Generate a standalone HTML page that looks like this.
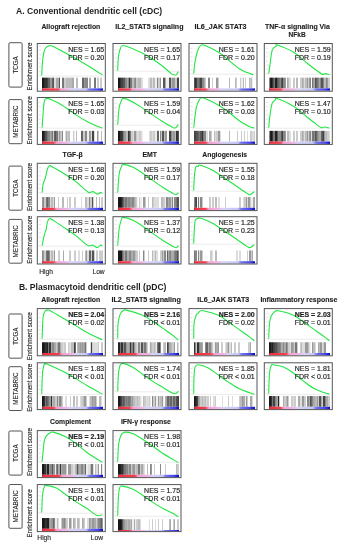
<!DOCTYPE html>
<html><head><meta charset="utf-8"><title>GSEA</title>
<style>
html,body{margin:0;padding:0;background:#fff;width:343px;height:550px;overflow:hidden}
svg{display:block;filter:blur(0.35px)}
text{font-family:"Liberation Sans",Arial,sans-serif;fill:#1e1e1e}
.h{font-weight:bold;font-size:8.6px}
.t{font-weight:bold;font-size:7.3px;stroke:#1e1e1e;stroke-width:0.12px}
.n{font-size:7.4px;stroke:#1e1e1e;stroke-width:0.18px}
.b{font-weight:bold}
.lab{font-size:6.4px;stroke:#1e1e1e;stroke-width:0.1px}
.es{font-size:6.4px;stroke:#1e1e1e;stroke-width:0.12px}
.hl{font-size:6.7px;stroke:#1e1e1e;stroke-width:0.12px}
</style></head><body>
<svg xmlns="http://www.w3.org/2000/svg" width="343" height="550" viewBox="0 0 343 550">
<defs>
<linearGradient id="g" x1="0" x2="1" y1="0" y2="0"><stop offset="0.000" stop-color="#c41428"/><stop offset="0.025" stop-color="#f0303f"/><stop offset="0.190" stop-color="#f4404f"/><stop offset="0.240" stop-color="#f5a0d2"/><stop offset="0.410" stop-color="#f0b6e8"/><stop offset="0.460" stop-color="#d6d2f6"/><stop offset="0.720" stop-color="#c6c6f6"/><stop offset="0.770" stop-color="#7474f0"/><stop offset="0.920" stop-color="#4646ea"/><stop offset="0.970" stop-color="#1c1cda"/><stop offset="1.000" stop-color="#0808c8"/></linearGradient><linearGradient id="gt" x1="0" x2="1" y1="0" y2="0"><stop offset="0.000" stop-color="#c41428"/><stop offset="0.025" stop-color="#f0303f"/><stop offset="0.280" stop-color="#f4404f"/><stop offset="0.330" stop-color="#f5a0d2"/><stop offset="0.510" stop-color="#f0b6e8"/><stop offset="0.560" stop-color="#d6d2f6"/><stop offset="0.730" stop-color="#c6c6f6"/><stop offset="0.780" stop-color="#7474f0"/><stop offset="0.920" stop-color="#4646ea"/><stop offset="0.970" stop-color="#1c1cda"/><stop offset="1.000" stop-color="#0808c8"/></linearGradient><linearGradient id="ga" x1="0" x2="1" y1="0" y2="0"><stop offset="0.000" stop-color="#c41428"/><stop offset="0.025" stop-color="#f0303f"/><stop offset="0.260" stop-color="#f4404f"/><stop offset="0.310" stop-color="#f5a0d2"/><stop offset="0.430" stop-color="#f0b6e8"/><stop offset="0.480" stop-color="#d6d2f6"/><stop offset="0.720" stop-color="#c6c6f6"/><stop offset="0.770" stop-color="#7474f0"/><stop offset="0.920" stop-color="#4646ea"/><stop offset="0.970" stop-color="#1c1cda"/><stop offset="1.000" stop-color="#0808c8"/></linearGradient>
</defs>
<rect width="343" height="550" fill="#fff"/>

<text x="16.1" y="14.2" class="h">A. Conventional dendritic cell (cDC)</text>
<text x="18.9" y="290.1" class="h">B. Plasmacytoid dendritic cell (pDC)</text>
<text x="41.4" y="29" class="t" textLength="58.9" lengthAdjust="spacingAndGlyphs">Allograft rejection</text>
<text x="115.2" y="29" class="t" textLength="68.3" lengthAdjust="spacingAndGlyphs">IL2_STAT5 signaling</text>
<text x="194.5" y="29" class="t" textLength="52.1" lengthAdjust="spacingAndGlyphs">IL6_JAK STAT3</text>
<text x="265.1" y="29" class="t" textLength="64.8" lengthAdjust="spacingAndGlyphs">TNF-α signaling Via</text>
<text x="288.6" y="36.9" class="t" textLength="17.1" lengthAdjust="spacingAndGlyphs">NFkB</text>
<text x="62.5" y="157" class="t" textLength="20.2" lengthAdjust="spacingAndGlyphs">TGF-β</text>
<text x="142.5" y="157" class="t" textLength="14.6" lengthAdjust="spacingAndGlyphs">EMT</text>
<text x="202.3" y="157" class="t" textLength="44.8" lengthAdjust="spacingAndGlyphs">Angiogenesis</text>
<text x="41.2" y="301.9" class="t" textLength="59.1" lengthAdjust="spacingAndGlyphs">Allograft rejection</text>
<text x="111.4" y="301.9" class="t" textLength="69.4" lengthAdjust="spacingAndGlyphs">IL2_STAT5 signaling</text>
<text x="197.3" y="301.9" class="t" textLength="52" lengthAdjust="spacingAndGlyphs">IL6_JAK STAT3</text>
<text x="260.4" y="301.9" class="t" textLength="76.9" lengthAdjust="spacingAndGlyphs">Inflammatory response</text>
<text x="50.1" y="424.3" class="t" textLength="41" lengthAdjust="spacingAndGlyphs">Complement</text>
<text x="120.9" y="424.3" class="t" textLength="50" lengthAdjust="spacingAndGlyphs">IFN-γ response</text>
<rect x="8.9" y="42.7" width="13.2" height="44.4" rx="1.2" fill="none" stroke="#555" stroke-width="1"/>
<text transform="translate(17.5 64.9) rotate(-90)" text-anchor="middle" class="lab" textLength="17.2" lengthAdjust="spacingAndGlyphs">TCGA</text>
<text transform="translate(31.9 66.45) rotate(-90)" text-anchor="middle" class="es" textLength="48" lengthAdjust="spacingAndGlyphs">Enrichment score</text>
<rect x="8.9" y="99.6" width="13.2" height="44.1" rx="1.2" fill="none" stroke="#555" stroke-width="1"/>
<text transform="translate(17.5 121.65) rotate(-90)" text-anchor="middle" class="lab" textLength="32.2" lengthAdjust="spacingAndGlyphs">METABRIC</text>
<text transform="translate(31.9 120.4) rotate(-90)" text-anchor="middle" class="es" textLength="48" lengthAdjust="spacingAndGlyphs">Enrichment score</text>
<rect x="8.9" y="166.1" width="13.2" height="44.1" rx="1.2" fill="none" stroke="#555" stroke-width="1"/>
<text transform="translate(17.5 188.15) rotate(-90)" text-anchor="middle" class="lab" textLength="17.2" lengthAdjust="spacingAndGlyphs">TCGA</text>
<text transform="translate(31.9 187) rotate(-90)" text-anchor="middle" class="es" textLength="48" lengthAdjust="spacingAndGlyphs">Enrichment score</text>
<rect x="8.9" y="219.4" width="13.2" height="43.8" rx="1.2" fill="none" stroke="#555" stroke-width="1"/>
<text transform="translate(17.5 241.3) rotate(-90)" text-anchor="middle" class="lab" textLength="32.2" lengthAdjust="spacingAndGlyphs">METABRIC</text>
<text transform="translate(31.9 239.7) rotate(-90)" text-anchor="middle" class="es" textLength="48" lengthAdjust="spacingAndGlyphs">Enrichment score</text>
<rect x="8.9" y="314" width="13.2" height="44.2" rx="1.2" fill="none" stroke="#555" stroke-width="1"/>
<text transform="translate(17.5 336.1) rotate(-90)" text-anchor="middle" class="lab" textLength="17.2" lengthAdjust="spacingAndGlyphs">TCGA</text>
<text transform="translate(31.9 336.25) rotate(-90)" text-anchor="middle" class="es" textLength="48" lengthAdjust="spacingAndGlyphs">Enrichment score</text>
<rect x="8.9" y="366.7" width="13.2" height="43.8" rx="1.2" fill="none" stroke="#555" stroke-width="1"/>
<text transform="translate(17.5 388.6) rotate(-90)" text-anchor="middle" class="lab" textLength="32.2" lengthAdjust="spacingAndGlyphs">METABRIC</text>
<text transform="translate(31.9 387.85) rotate(-90)" text-anchor="middle" class="es" textLength="48" lengthAdjust="spacingAndGlyphs">Enrichment score</text>
<rect x="8.9" y="431" width="13.2" height="44.1" rx="1.2" fill="none" stroke="#555" stroke-width="1"/>
<text transform="translate(17.5 453.05) rotate(-90)" text-anchor="middle" class="lab" textLength="17.2" lengthAdjust="spacingAndGlyphs">TCGA</text>
<text transform="translate(31.9 452.1) rotate(-90)" text-anchor="middle" class="es" textLength="48" lengthAdjust="spacingAndGlyphs">Enrichment score</text>
<rect x="8.9" y="484.5" width="13.2" height="43.8" rx="1.2" fill="none" stroke="#555" stroke-width="1"/>
<text transform="translate(17.5 506.4) rotate(-90)" text-anchor="middle" class="lab" textLength="32.2" lengthAdjust="spacingAndGlyphs">METABRIC</text>
<text transform="translate(31.9 513.4) rotate(-90)" text-anchor="middle" class="es" textLength="48" lengthAdjust="spacingAndGlyphs">Enrichment score</text>
<line x1="40.3" y1="76.1" x2="103.8" y2="76.1" stroke="#e6e6e6" stroke-width="0.8"/>
<line x1="38.9" y1="75.5" x2="40.9" y2="75.5" stroke="#dcdcdc" stroke-width="0.8"/>
<line x1="38.9" y1="71.3" x2="40.9" y2="71.3" stroke="#dcdcdc" stroke-width="0.8"/>
<line x1="38.9" y1="67.1" x2="40.9" y2="67.1" stroke="#dcdcdc" stroke-width="0.8"/>
<line x1="38.9" y1="62.9" x2="40.9" y2="62.9" stroke="#dcdcdc" stroke-width="0.8"/>
<line x1="38.9" y1="58.7" x2="40.9" y2="58.7" stroke="#dcdcdc" stroke-width="0.8"/>
<line x1="38.9" y1="54.5" x2="40.9" y2="54.5" stroke="#dcdcdc" stroke-width="0.8"/>
<line x1="38.9" y1="50.3" x2="40.9" y2="50.3" stroke="#dcdcdc" stroke-width="0.8"/>
<line x1="38.9" y1="46.1" x2="40.9" y2="46.1" stroke="#dcdcdc" stroke-width="0.8"/>
<rect x="42" y="77.65" width="2" height="10.75" fill="#181818"/>
<rect x="44" y="77.65" width="3" height="10.75" fill="#333333"/>
<rect x="47" y="77.65" width="1" height="10.75" fill="#444444"/>
<rect x="48" y="77.65" width="2" height="10.75" fill="#666666"/>
<rect x="50" y="77.65" width="2" height="10.75" fill="#999999"/>
<rect x="52" y="77.65" width="1" height="10.75" fill="#666666"/>
<rect x="53" y="77.65" width="1" height="10.75" fill="#555555"/>
<rect x="54" y="77.65" width="2" height="10.75" fill="#dddddd"/>
<rect x="56" y="77.65" width="3" height="10.75" fill="#aaaaaa"/>
<rect x="59" y="77.65" width="1" height="10.75" fill="#555555"/>
<rect x="62" y="77.65" width="2" height="10.75" fill="#777777"/>
<rect x="64" y="77.65" width="2" height="10.75" fill="#cccccc"/>
<rect x="66" y="77.65" width="6" height="10.75" fill="#bbbbbb"/>
<rect x="72" y="77.65" width="2" height="10.75" fill="#aaaaaa"/>
<rect x="76" y="77.65" width="2" height="10.75" fill="#bbbbbb"/>
<rect x="82" y="77.65" width="2" height="10.75" fill="#666666"/>
<rect x="84" y="77.65" width="1" height="10.75" fill="#999999"/>
<rect x="85" y="77.65" width="3" height="10.75" fill="#888888"/>
<rect x="89" y="77.65" width="2" height="10.75" fill="#aaaaaa"/>
<rect x="94" y="77.65" width="2" height="10.75" fill="#777777"/>
<rect x="97" y="77.65" width="2" height="10.75" fill="#cccccc"/>
<rect x="100" y="77.65" width="2" height="10.75" fill="#cccccc"/>
<rect x="42" y="88.4" width="61" height="2.3" fill="url(#ga)"/>
<path d="M41.7 75.5C41.83 73.25 42.12 65.92 42.5 62C42.88 58.08 43.42 54.42 44 52C44.58 49.58 45.12 48.55 46 47.5C46.88 46.45 48.3 45.95 49.3 45.7C50.3 45.45 50.22 45.28 52 46C53.78 46.72 57 48.42 60 50C63 51.58 66.67 53.67 70 55.5C73.33 57.33 76.67 59.08 80 61C83.33 62.92 86.25 64.67 90 67C93.75 69.33 100.42 73.67 102.5 75" fill="none" stroke="#22e644" stroke-width="1.1" stroke-linejoin="round"/>
<rect x="37.3" y="43.5" width="68" height="47.7" fill="none" stroke="#555" stroke-width="1"/>
<text x="104.2" y="51.9" text-anchor="end" class="n" textLength="36" lengthAdjust="spacingAndGlyphs">NES = 1.65</text>
<text x="104.2" y="60.1" text-anchor="end" class="n" textLength="36" lengthAdjust="spacingAndGlyphs">FDR = 0.20</text>
<line x1="116" y1="71.2" x2="179.5" y2="71.2" stroke="#e6e6e6" stroke-width="0.8"/>
<line x1="114.6" y1="70.6" x2="116.6" y2="70.6" stroke="#dcdcdc" stroke-width="0.8"/>
<line x1="114.6" y1="66.4" x2="116.6" y2="66.4" stroke="#dcdcdc" stroke-width="0.8"/>
<line x1="114.6" y1="62.2" x2="116.6" y2="62.2" stroke="#dcdcdc" stroke-width="0.8"/>
<line x1="114.6" y1="58" x2="116.6" y2="58" stroke="#dcdcdc" stroke-width="0.8"/>
<line x1="114.6" y1="53.8" x2="116.6" y2="53.8" stroke="#dcdcdc" stroke-width="0.8"/>
<line x1="114.6" y1="49.6" x2="116.6" y2="49.6" stroke="#dcdcdc" stroke-width="0.8"/>
<rect x="118" y="77.65" width="2" height="10.75" fill="#181818"/>
<rect x="120" y="77.65" width="1" height="10.75" fill="#333333"/>
<rect x="121" y="77.65" width="2" height="10.75" fill="#444444"/>
<rect x="123" y="77.65" width="2" height="10.75" fill="#555555"/>
<rect x="125" y="77.65" width="2" height="10.75" fill="#888888"/>
<rect x="127" y="77.65" width="1" height="10.75" fill="#aaaaaa"/>
<rect x="128" y="77.65" width="1" height="10.75" fill="#888888"/>
<rect x="129" y="77.65" width="1" height="10.75" fill="#333333"/>
<rect x="130" y="77.65" width="2" height="10.75" fill="#777777"/>
<rect x="132" y="77.65" width="2" height="10.75" fill="#bbbbbb"/>
<rect x="134" y="77.65" width="1" height="10.75" fill="#999999"/>
<rect x="135" y="77.65" width="1" height="10.75" fill="#888888"/>
<rect x="136" y="77.65" width="2" height="10.75" fill="#cccccc"/>
<rect x="138" y="77.65" width="3" height="10.75" fill="#bbbbbb"/>
<rect x="141" y="77.65" width="2" height="10.75" fill="#dddddd"/>
<rect x="148" y="77.65" width="2" height="10.75" fill="#dddddd"/>
<rect x="150" y="77.65" width="2" height="10.75" fill="#bbbbbb"/>
<rect x="152" y="77.65" width="1" height="10.75" fill="#dddddd"/>
<rect x="153" y="77.65" width="2" height="10.75" fill="#bbbbbb"/>
<rect x="155" y="77.65" width="2" height="10.75" fill="#eeeeee"/>
<rect x="157" y="77.65" width="1" height="10.75" fill="#888888"/>
<rect x="158" y="77.65" width="2" height="10.75" fill="#cccccc"/>
<rect x="160" y="77.65" width="1" height="10.75" fill="#999999"/>
<rect x="163" y="77.65" width="2" height="10.75" fill="#555555"/>
<rect x="165" y="77.65" width="1" height="10.75" fill="#aaaaaa"/>
<rect x="166" y="77.65" width="3" height="10.75" fill="#eeeeee"/>
<rect x="169" y="77.65" width="2" height="10.75" fill="#555555"/>
<rect x="171" y="77.65" width="1" height="10.75" fill="#bbbbbb"/>
<rect x="172" y="77.65" width="3" height="10.75" fill="#999999"/>
<rect x="175" y="77.65" width="2" height="10.75" fill="#cccccc"/>
<rect x="177" y="77.65" width="2" height="10.75" fill="#444444"/>
<rect x="118" y="88.4" width="61" height="2.3" fill="url(#g)"/>
<path d="M117.7 70.6C117.8 68.55 117.88 61.88 118.3 58.3C118.72 54.72 119.22 51.2 120.2 49.1C121.18 47 120.47 45.02 124.2 45.7C127.93 46.38 137.83 50.93 142.6 53.2C147.37 55.47 149.4 57.08 152.8 59.3C156.2 61.52 159.93 64.12 163 66.5C166.07 68.88 169.5 72.23 171.2 73.6C172.9 74.97 172.35 74.52 173.2 74.7C174.05 74.88 175.45 75.22 176.3 74.7C177.15 74.18 177.97 72.12 178.3 71.6" fill="none" stroke="#22e644" stroke-width="1.1" stroke-linejoin="round"/>
<rect x="113" y="43.5" width="68" height="47.7" fill="none" stroke="#555" stroke-width="1"/>
<text x="180.1" y="51.9" text-anchor="end" class="n" textLength="36" lengthAdjust="spacingAndGlyphs">NES = 1.65</text>
<text x="180.1" y="60.1" text-anchor="end" class="n" textLength="36" lengthAdjust="spacingAndGlyphs">FDR = 0.17</text>
<line x1="192" y1="74.2" x2="255.5" y2="74.2" stroke="#e6e6e6" stroke-width="0.8"/>
<line x1="190.6" y1="73.6" x2="192.6" y2="73.6" stroke="#dcdcdc" stroke-width="0.8"/>
<line x1="190.6" y1="69.4" x2="192.6" y2="69.4" stroke="#dcdcdc" stroke-width="0.8"/>
<line x1="190.6" y1="65.2" x2="192.6" y2="65.2" stroke="#dcdcdc" stroke-width="0.8"/>
<line x1="190.6" y1="61" x2="192.6" y2="61" stroke="#dcdcdc" stroke-width="0.8"/>
<line x1="190.6" y1="56.8" x2="192.6" y2="56.8" stroke="#dcdcdc" stroke-width="0.8"/>
<line x1="190.6" y1="52.6" x2="192.6" y2="52.6" stroke="#dcdcdc" stroke-width="0.8"/>
<line x1="190.6" y1="48.4" x2="192.6" y2="48.4" stroke="#dcdcdc" stroke-width="0.8"/>
<rect x="194" y="77.65" width="1" height="10.75" fill="#555555"/>
<rect x="195" y="77.65" width="1" height="10.75" fill="#333333"/>
<rect x="196" y="77.65" width="1" height="10.75" fill="#444444"/>
<rect x="197" y="77.65" width="2" height="10.75" fill="#777777"/>
<rect x="199" y="77.65" width="1" height="10.75" fill="#666666"/>
<rect x="200" y="77.65" width="2" height="10.75" fill="#444444"/>
<rect x="202" y="77.65" width="2" height="10.75" fill="#888888"/>
<rect x="204" y="77.65" width="1" height="10.75" fill="#aaaaaa"/>
<rect x="205" y="77.65" width="1" height="10.75" fill="#cccccc"/>
<rect x="208" y="77.65" width="2" height="10.75" fill="#888888"/>
<rect x="212" y="77.65" width="1" height="10.75" fill="#cccccc"/>
<rect x="216" y="77.65" width="2" height="10.75" fill="#999999"/>
<rect x="218" y="77.65" width="1" height="10.75" fill="#cccccc"/>
<rect x="229" y="77.65" width="1" height="10.75" fill="#bbbbbb"/>
<rect x="235" y="77.65" width="1" height="10.75" fill="#bbbbbb"/>
<rect x="236" y="77.65" width="1" height="10.75" fill="#cccccc"/>
<rect x="240" y="77.65" width="1" height="10.75" fill="#cccccc"/>
<rect x="241" y="77.65" width="2" height="10.75" fill="#eeeeee"/>
<rect x="243" y="77.65" width="1" height="10.75" fill="#bbbbbb"/>
<rect x="245" y="77.65" width="1" height="10.75" fill="#cccccc"/>
<rect x="249" y="77.65" width="1" height="10.75" fill="#bbbbbb"/>
<rect x="250" y="77.65" width="1" height="10.75" fill="#cccccc"/>
<rect x="251" y="77.65" width="1" height="10.75" fill="#bbbbbb"/>
<rect x="252" y="77.65" width="1" height="10.75" fill="#eeeeee"/>
<rect x="194" y="88.4" width="61" height="2.3" fill="url(#g)"/>
<path d="M193.7 73.6C193.92 71.67 194.45 65.43 195 62C195.55 58.57 196.33 55.42 197 53C197.67 50.58 198.28 48.82 199 47.5C199.72 46.18 200.3 45.43 201.3 45.1C202.3 44.77 202.12 44.32 205 45.5C207.88 46.68 214.63 49.72 218.6 52.2C222.57 54.68 225.4 57.68 228.8 60.4C232.2 63.12 235.93 66.47 239 68.5C242.07 70.53 244.82 71.57 247.2 72.6C249.58 73.63 252.28 74.35 253.3 74.7" fill="none" stroke="#22e644" stroke-width="1.1" stroke-linejoin="round"/>
<rect x="189" y="43.5" width="68" height="47.7" fill="none" stroke="#555" stroke-width="1"/>
<text x="254.7" y="51.9" text-anchor="end" class="n" textLength="36" lengthAdjust="spacingAndGlyphs">NES = 1.61</text>
<text x="254.7" y="60.1" text-anchor="end" class="n" textLength="36" lengthAdjust="spacingAndGlyphs">FDR = 0.20</text>
<line x1="267.3" y1="74.2" x2="330.8" y2="74.2" stroke="#e6e6e6" stroke-width="0.8"/>
<line x1="265.9" y1="73.6" x2="267.9" y2="73.6" stroke="#dcdcdc" stroke-width="0.8"/>
<line x1="265.9" y1="69.4" x2="267.9" y2="69.4" stroke="#dcdcdc" stroke-width="0.8"/>
<line x1="265.9" y1="65.2" x2="267.9" y2="65.2" stroke="#dcdcdc" stroke-width="0.8"/>
<line x1="265.9" y1="61" x2="267.9" y2="61" stroke="#dcdcdc" stroke-width="0.8"/>
<line x1="265.9" y1="56.8" x2="267.9" y2="56.8" stroke="#dcdcdc" stroke-width="0.8"/>
<line x1="265.9" y1="52.6" x2="267.9" y2="52.6" stroke="#dcdcdc" stroke-width="0.8"/>
<line x1="265.9" y1="48.4" x2="267.9" y2="48.4" stroke="#dcdcdc" stroke-width="0.8"/>
<rect x="269" y="77.65" width="1" height="10.75" fill="#888888"/>
<rect x="270" y="77.65" width="1" height="10.75" fill="#222222"/>
<rect x="271" y="77.65" width="1" height="10.75" fill="#181818"/>
<rect x="272" y="77.65" width="1" height="10.75" fill="#333333"/>
<rect x="273" y="77.65" width="1" height="10.75" fill="#555555"/>
<rect x="274" y="77.65" width="1" height="10.75" fill="#777777"/>
<rect x="275" y="77.65" width="2" height="10.75" fill="#222222"/>
<rect x="277" y="77.65" width="1" height="10.75" fill="#555555"/>
<rect x="278" y="77.65" width="1" height="10.75" fill="#666666"/>
<rect x="279" y="77.65" width="1" height="10.75" fill="#777777"/>
<rect x="280" y="77.65" width="1" height="10.75" fill="#888888"/>
<rect x="281" y="77.65" width="1" height="10.75" fill="#555555"/>
<rect x="282" y="77.65" width="1" height="10.75" fill="#444444"/>
<rect x="283" y="77.65" width="2" height="10.75" fill="#888888"/>
<rect x="285" y="77.65" width="1" height="10.75" fill="#999999"/>
<rect x="287" y="77.65" width="1" height="10.75" fill="#aaaaaa"/>
<rect x="288" y="77.65" width="1" height="10.75" fill="#bbbbbb"/>
<rect x="289" y="77.65" width="2" height="10.75" fill="#dddddd"/>
<rect x="293" y="77.65" width="2" height="10.75" fill="#cccccc"/>
<rect x="296" y="77.65" width="2" height="10.75" fill="#bbbbbb"/>
<rect x="300" y="77.65" width="2" height="10.75" fill="#cccccc"/>
<rect x="302" y="77.65" width="1" height="10.75" fill="#aaaaaa"/>
<rect x="303" y="77.65" width="1" height="10.75" fill="#bbbbbb"/>
<rect x="304" y="77.65" width="1" height="10.75" fill="#dddddd"/>
<rect x="305" y="77.65" width="2" height="10.75" fill="#bbbbbb"/>
<rect x="307" y="77.65" width="1" height="10.75" fill="#999999"/>
<rect x="308" y="77.65" width="1" height="10.75" fill="#cccccc"/>
<rect x="309" y="77.65" width="1" height="10.75" fill="#999999"/>
<rect x="310" y="77.65" width="1" height="10.75" fill="#888888"/>
<rect x="312" y="77.65" width="1" height="10.75" fill="#777777"/>
<rect x="313" y="77.65" width="1" height="10.75" fill="#999999"/>
<rect x="314" y="77.65" width="1" height="10.75" fill="#aaaaaa"/>
<rect x="315" y="77.65" width="1" height="10.75" fill="#555555"/>
<rect x="316" y="77.65" width="1" height="10.75" fill="#666666"/>
<rect x="317" y="77.65" width="1" height="10.75" fill="#777777"/>
<rect x="318" y="77.65" width="1" height="10.75" fill="#888888"/>
<rect x="319" y="77.65" width="1" height="10.75" fill="#aaaaaa"/>
<rect x="320" y="77.65" width="1" height="10.75" fill="#888888"/>
<rect x="321" y="77.65" width="2" height="10.75" fill="#555555"/>
<rect x="323" y="77.65" width="1" height="10.75" fill="#888888"/>
<rect x="324" y="77.65" width="2" height="10.75" fill="#bbbbbb"/>
<rect x="326" y="77.65" width="1" height="10.75" fill="#888888"/>
<rect x="327" y="77.65" width="1" height="10.75" fill="#999999"/>
<rect x="328" y="77.65" width="2" height="10.75" fill="#cccccc"/>
<rect x="269" y="88.4" width="61" height="2.3" fill="url(#g)"/>
<path d="M268.7 73.6C268.92 72.17 269.42 68.9 270 65C270.58 61.1 271.15 53.35 272.2 50.2C273.25 47.05 275.45 46.95 276.3 46.1C277.15 45.25 274.42 44.08 277.3 45.1C280.18 46.12 289.18 49.65 293.6 52.2C298.02 54.75 300.4 57.68 303.8 60.4C307.2 63.12 310.93 66.2 314 68.5C317.07 70.8 320.32 73.35 322.2 74.2C324.08 75.05 324.12 73.52 325.3 73.6C326.48 73.68 328.63 74.52 329.3 74.7" fill="none" stroke="#22e644" stroke-width="1.1" stroke-linejoin="round"/>
<rect x="264.3" y="43.5" width="68" height="47.7" fill="none" stroke="#555" stroke-width="1"/>
<text x="330.7" y="51.9" text-anchor="end" class="n" textLength="36" lengthAdjust="spacingAndGlyphs">NES = 1.59</text>
<text x="330.7" y="60.1" text-anchor="end" class="n" textLength="36" lengthAdjust="spacingAndGlyphs">FDR = 0.19</text>
<line x1="40.3" y1="128.2" x2="103.8" y2="128.2" stroke="#e6e6e6" stroke-width="0.8"/>
<line x1="38.9" y1="127.6" x2="40.9" y2="127.6" stroke="#dcdcdc" stroke-width="0.8"/>
<line x1="38.9" y1="123.4" x2="40.9" y2="123.4" stroke="#dcdcdc" stroke-width="0.8"/>
<line x1="38.9" y1="119.2" x2="40.9" y2="119.2" stroke="#dcdcdc" stroke-width="0.8"/>
<line x1="38.9" y1="115" x2="40.9" y2="115" stroke="#dcdcdc" stroke-width="0.8"/>
<line x1="38.9" y1="110.8" x2="40.9" y2="110.8" stroke="#dcdcdc" stroke-width="0.8"/>
<line x1="38.9" y1="106.6" x2="40.9" y2="106.6" stroke="#dcdcdc" stroke-width="0.8"/>
<line x1="38.9" y1="102.4" x2="40.9" y2="102.4" stroke="#dcdcdc" stroke-width="0.8"/>
<rect x="42" y="130.85" width="1" height="10.75" fill="#181818"/>
<rect x="43" y="130.85" width="1" height="10.75" fill="#222222"/>
<rect x="44" y="130.85" width="1" height="10.75" fill="#333333"/>
<rect x="45" y="130.85" width="2" height="10.75" fill="#555555"/>
<rect x="47" y="130.85" width="1" height="10.75" fill="#777777"/>
<rect x="48" y="130.85" width="2" height="10.75" fill="#888888"/>
<rect x="50" y="130.85" width="1" height="10.75" fill="#aaaaaa"/>
<rect x="51" y="130.85" width="1" height="10.75" fill="#999999"/>
<rect x="52" y="130.85" width="1" height="10.75" fill="#777777"/>
<rect x="53" y="130.85" width="1" height="10.75" fill="#cccccc"/>
<rect x="54" y="130.85" width="1" height="10.75" fill="#666666"/>
<rect x="55" y="130.85" width="1" height="10.75" fill="#555555"/>
<rect x="56" y="130.85" width="2" height="10.75" fill="#777777"/>
<rect x="58" y="130.85" width="1" height="10.75" fill="#cccccc"/>
<rect x="59" y="130.85" width="1" height="10.75" fill="#999999"/>
<rect x="60" y="130.85" width="1" height="10.75" fill="#bbbbbb"/>
<rect x="61" y="130.85" width="1" height="10.75" fill="#cccccc"/>
<rect x="62" y="130.85" width="1" height="10.75" fill="#888888"/>
<rect x="65" y="130.85" width="1" height="10.75" fill="#dddddd"/>
<rect x="66" y="130.85" width="1" height="10.75" fill="#aaaaaa"/>
<rect x="67" y="130.85" width="1" height="10.75" fill="#cccccc"/>
<rect x="68" y="130.85" width="2" height="10.75" fill="#bbbbbb"/>
<rect x="73" y="130.85" width="1" height="10.75" fill="#cccccc"/>
<rect x="74" y="130.85" width="1" height="10.75" fill="#eeeeee"/>
<rect x="76" y="130.85" width="1" height="10.75" fill="#bbbbbb"/>
<rect x="81" y="130.85" width="2" height="10.75" fill="#666666"/>
<rect x="83" y="130.85" width="2" height="10.75" fill="#cccccc"/>
<rect x="85" y="130.85" width="2" height="10.75" fill="#888888"/>
<rect x="87" y="130.85" width="2" height="10.75" fill="#eeeeee"/>
<rect x="89" y="130.85" width="2" height="10.75" fill="#999999"/>
<rect x="91" y="130.85" width="1" height="10.75" fill="#dddddd"/>
<rect x="92" y="130.85" width="2" height="10.75" fill="#444444"/>
<rect x="94" y="130.85" width="1" height="10.75" fill="#dddddd"/>
<rect x="97" y="130.85" width="1" height="10.75" fill="#999999"/>
<rect x="98" y="130.85" width="1" height="10.75" fill="#cccccc"/>
<rect x="101" y="130.85" width="1" height="10.75" fill="#bbbbbb"/>
<rect x="42" y="141.6" width="61" height="2.3" fill="url(#g)"/>
<path d="M42.1 127.6C42.25 125.5 42.65 119.25 43 115C43.35 110.75 43.5 104.87 44.2 102.1C44.9 99.33 45.17 98.4 47.2 98.4C49.23 98.4 53.17 100.47 56.4 102.1C59.63 103.73 63.2 105.98 66.6 108.2C70 110.42 73.4 113.18 76.8 115.4C80.2 117.62 83.6 119.7 87 121.5C90.4 123.3 94.65 125.12 97.2 126.2C99.75 127.28 101.45 127.7 102.3 128" fill="none" stroke="#22e644" stroke-width="1.1" stroke-linejoin="round"/>
<rect x="37.3" y="97.5" width="68" height="46.9" fill="none" stroke="#555" stroke-width="1"/>
<text x="104.2" y="105.9" text-anchor="end" class="n" textLength="36" lengthAdjust="spacingAndGlyphs">NES = 1.65</text>
<text x="104.2" y="114.1" text-anchor="end" class="n" textLength="36" lengthAdjust="spacingAndGlyphs">FDR = 0.03</text>
<line x1="116" y1="125.2" x2="179.5" y2="125.2" stroke="#e6e6e6" stroke-width="0.8"/>
<line x1="114.6" y1="124.6" x2="116.6" y2="124.6" stroke="#dcdcdc" stroke-width="0.8"/>
<line x1="114.6" y1="120.4" x2="116.6" y2="120.4" stroke="#dcdcdc" stroke-width="0.8"/>
<line x1="114.6" y1="116.2" x2="116.6" y2="116.2" stroke="#dcdcdc" stroke-width="0.8"/>
<line x1="114.6" y1="112" x2="116.6" y2="112" stroke="#dcdcdc" stroke-width="0.8"/>
<line x1="114.6" y1="107.8" x2="116.6" y2="107.8" stroke="#dcdcdc" stroke-width="0.8"/>
<line x1="114.6" y1="103.6" x2="116.6" y2="103.6" stroke="#dcdcdc" stroke-width="0.8"/>
<rect x="118" y="130.85" width="2" height="10.75" fill="#181818"/>
<rect x="120" y="130.85" width="2" height="10.75" fill="#333333"/>
<rect x="122" y="130.85" width="1" height="10.75" fill="#444444"/>
<rect x="123" y="130.85" width="1" height="10.75" fill="#777777"/>
<rect x="124" y="130.85" width="2" height="10.75" fill="#999999"/>
<rect x="126" y="130.85" width="2" height="10.75" fill="#bbbbbb"/>
<rect x="128" y="130.85" width="1" height="10.75" fill="#333333"/>
<rect x="129" y="130.85" width="1" height="10.75" fill="#555555"/>
<rect x="130" y="130.85" width="1" height="10.75" fill="#777777"/>
<rect x="131" y="130.85" width="2" height="10.75" fill="#cccccc"/>
<rect x="133" y="130.85" width="1" height="10.75" fill="#dddddd"/>
<rect x="134" y="130.85" width="2" height="10.75" fill="#999999"/>
<rect x="136" y="130.85" width="1" height="10.75" fill="#cccccc"/>
<rect x="137" y="130.85" width="2" height="10.75" fill="#dddddd"/>
<rect x="139" y="130.85" width="2" height="10.75" fill="#cccccc"/>
<rect x="141" y="130.85" width="1" height="10.75" fill="#dddddd"/>
<rect x="142" y="130.85" width="1" height="10.75" fill="#eeeeee"/>
<rect x="149" y="130.85" width="1" height="10.75" fill="#dddddd"/>
<rect x="150" y="130.85" width="2" height="10.75" fill="#cccccc"/>
<rect x="152" y="130.85" width="1" height="10.75" fill="#dddddd"/>
<rect x="153" y="130.85" width="2" height="10.75" fill="#cccccc"/>
<rect x="155" y="130.85" width="2" height="10.75" fill="#eeeeee"/>
<rect x="157" y="130.85" width="2" height="10.75" fill="#666666"/>
<rect x="160" y="130.85" width="1" height="10.75" fill="#888888"/>
<rect x="161" y="130.85" width="1" height="10.75" fill="#cccccc"/>
<rect x="162" y="130.85" width="2" height="10.75" fill="#555555"/>
<rect x="164" y="130.85" width="1" height="10.75" fill="#bbbbbb"/>
<rect x="165" y="130.85" width="2" height="10.75" fill="#999999"/>
<rect x="169" y="130.85" width="2" height="10.75" fill="#444444"/>
<rect x="171" y="130.85" width="1" height="10.75" fill="#888888"/>
<rect x="172" y="130.85" width="1" height="10.75" fill="#aaaaaa"/>
<rect x="173" y="130.85" width="2" height="10.75" fill="#999999"/>
<rect x="175" y="130.85" width="1" height="10.75" fill="#bbbbbb"/>
<rect x="176" y="130.85" width="2" height="10.75" fill="#333333"/>
<rect x="178" y="130.85" width="1" height="10.75" fill="#555555"/>
<rect x="118" y="141.6" width="61" height="2.3" fill="url(#g)"/>
<path d="M117.7 124.6C117.93 121.87 118.52 112.12 119.1 108.2C119.68 104.28 120.35 102.73 121.2 101.1C122.05 99.47 121.65 97.88 124.2 98.4C126.75 98.92 132.42 101.88 136.5 104.2C140.58 106.52 144.62 109.58 148.7 112.3C152.78 115.02 157.25 118.12 161 120.5C164.75 122.88 168.82 125.35 171.2 126.6C173.58 127.85 174.12 128.33 175.3 128C176.48 127.67 177.8 125.17 178.3 124.6" fill="none" stroke="#22e644" stroke-width="1.1" stroke-linejoin="round"/>
<rect x="113" y="97.5" width="68" height="46.9" fill="none" stroke="#555" stroke-width="1"/>
<text x="180.1" y="105.9" text-anchor="end" class="n" textLength="36" lengthAdjust="spacingAndGlyphs">NES = 1.59</text>
<text x="180.1" y="114.1" text-anchor="end" class="n" textLength="36" lengthAdjust="spacingAndGlyphs">FDR = 0.04</text>
<line x1="192" y1="128.2" x2="255.5" y2="128.2" stroke="#e6e6e6" stroke-width="0.8"/>
<line x1="190.6" y1="127.6" x2="192.6" y2="127.6" stroke="#dcdcdc" stroke-width="0.8"/>
<line x1="190.6" y1="123.4" x2="192.6" y2="123.4" stroke="#dcdcdc" stroke-width="0.8"/>
<line x1="190.6" y1="119.2" x2="192.6" y2="119.2" stroke="#dcdcdc" stroke-width="0.8"/>
<line x1="190.6" y1="115" x2="192.6" y2="115" stroke="#dcdcdc" stroke-width="0.8"/>
<line x1="190.6" y1="110.8" x2="192.6" y2="110.8" stroke="#dcdcdc" stroke-width="0.8"/>
<line x1="190.6" y1="106.6" x2="192.6" y2="106.6" stroke="#dcdcdc" stroke-width="0.8"/>
<line x1="190.6" y1="102.4" x2="192.6" y2="102.4" stroke="#dcdcdc" stroke-width="0.8"/>
<rect x="194" y="130.85" width="2" height="10.75" fill="#444444"/>
<rect x="196" y="130.85" width="2" height="10.75" fill="#555555"/>
<rect x="198" y="130.85" width="1" height="10.75" fill="#666666"/>
<rect x="199" y="130.85" width="1" height="10.75" fill="#777777"/>
<rect x="200" y="130.85" width="2" height="10.75" fill="#555555"/>
<rect x="202" y="130.85" width="1" height="10.75" fill="#333333"/>
<rect x="203" y="130.85" width="1" height="10.75" fill="#777777"/>
<rect x="204" y="130.85" width="2" height="10.75" fill="#888888"/>
<rect x="206" y="130.85" width="2" height="10.75" fill="#dddddd"/>
<rect x="209" y="130.85" width="2" height="10.75" fill="#aaaaaa"/>
<rect x="211" y="130.85" width="1" height="10.75" fill="#cccccc"/>
<rect x="214" y="130.85" width="1" height="10.75" fill="#bbbbbb"/>
<rect x="215" y="130.85" width="1" height="10.75" fill="#dddddd"/>
<rect x="216" y="130.85" width="2" height="10.75" fill="#cccccc"/>
<rect x="218" y="130.85" width="2" height="10.75" fill="#999999"/>
<rect x="220" y="130.85" width="1" height="10.75" fill="#dddddd"/>
<rect x="229" y="130.85" width="1" height="10.75" fill="#bbbbbb"/>
<rect x="237" y="130.85" width="1" height="10.75" fill="#cccccc"/>
<rect x="241" y="130.85" width="1" height="10.75" fill="#cccccc"/>
<rect x="244" y="130.85" width="1" height="10.75" fill="#cccccc"/>
<rect x="247" y="130.85" width="1" height="10.75" fill="#dddddd"/>
<rect x="250" y="130.85" width="2" height="10.75" fill="#cccccc"/>
<rect x="252" y="130.85" width="2" height="10.75" fill="#dddddd"/>
<rect x="254" y="130.85" width="1" height="10.75" fill="#cccccc"/>
<rect x="194" y="141.6" width="61" height="2.3" fill="url(#g)"/>
<path d="M193.7 127.6C194.12 124.37 195.28 112.78 196.2 108.2C197.12 103.62 198.02 101.8 199.2 100.1C200.38 98.4 200.07 97.15 203.3 98C206.53 98.85 214.35 102.82 218.6 105.2C222.85 107.58 225.4 109.75 228.8 112.3C232.2 114.85 235.6 118.12 239 120.5C242.4 122.88 246.65 125.35 249.2 126.6C251.75 127.85 253.45 127.77 254.3 128" fill="none" stroke="#22e644" stroke-width="1.1" stroke-linejoin="round"/>
<rect x="189" y="97.5" width="68" height="46.9" fill="none" stroke="#555" stroke-width="1"/>
<text x="254.7" y="105.9" text-anchor="end" class="n" textLength="36" lengthAdjust="spacingAndGlyphs">NES = 1.62</text>
<text x="254.7" y="114.1" text-anchor="end" class="n" textLength="36" lengthAdjust="spacingAndGlyphs">FDR = 0.03</text>
<line x1="267.3" y1="128.2" x2="330.8" y2="128.2" stroke="#e6e6e6" stroke-width="0.8"/>
<line x1="265.9" y1="127.6" x2="267.9" y2="127.6" stroke="#dcdcdc" stroke-width="0.8"/>
<line x1="265.9" y1="123.4" x2="267.9" y2="123.4" stroke="#dcdcdc" stroke-width="0.8"/>
<line x1="265.9" y1="119.2" x2="267.9" y2="119.2" stroke="#dcdcdc" stroke-width="0.8"/>
<line x1="265.9" y1="115" x2="267.9" y2="115" stroke="#dcdcdc" stroke-width="0.8"/>
<line x1="265.9" y1="110.8" x2="267.9" y2="110.8" stroke="#dcdcdc" stroke-width="0.8"/>
<line x1="265.9" y1="106.6" x2="267.9" y2="106.6" stroke="#dcdcdc" stroke-width="0.8"/>
<line x1="265.9" y1="102.4" x2="267.9" y2="102.4" stroke="#dcdcdc" stroke-width="0.8"/>
<rect x="269" y="130.85" width="1" height="10.75" fill="#888888"/>
<rect x="270" y="130.85" width="1" height="10.75" fill="#222222"/>
<rect x="271" y="130.85" width="1" height="10.75" fill="#181818"/>
<rect x="272" y="130.85" width="1" height="10.75" fill="#333333"/>
<rect x="273" y="130.85" width="2" height="10.75" fill="#777777"/>
<rect x="275" y="130.85" width="2" height="10.75" fill="#222222"/>
<rect x="277" y="130.85" width="1" height="10.75" fill="#555555"/>
<rect x="278" y="130.85" width="3" height="10.75" fill="#888888"/>
<rect x="281" y="130.85" width="1" height="10.75" fill="#555555"/>
<rect x="282" y="130.85" width="1" height="10.75" fill="#444444"/>
<rect x="283" y="130.85" width="2" height="10.75" fill="#888888"/>
<rect x="285" y="130.85" width="1" height="10.75" fill="#999999"/>
<rect x="287" y="130.85" width="2" height="10.75" fill="#bbbbbb"/>
<rect x="289" y="130.85" width="2" height="10.75" fill="#dddddd"/>
<rect x="293" y="130.85" width="2" height="10.75" fill="#cccccc"/>
<rect x="296" y="130.85" width="2" height="10.75" fill="#cccccc"/>
<rect x="300" y="130.85" width="2" height="10.75" fill="#cccccc"/>
<rect x="302" y="130.85" width="1" height="10.75" fill="#aaaaaa"/>
<rect x="303" y="130.85" width="1" height="10.75" fill="#bbbbbb"/>
<rect x="304" y="130.85" width="1" height="10.75" fill="#dddddd"/>
<rect x="305" y="130.85" width="2" height="10.75" fill="#bbbbbb"/>
<rect x="307" y="130.85" width="1" height="10.75" fill="#999999"/>
<rect x="308" y="130.85" width="1" height="10.75" fill="#cccccc"/>
<rect x="309" y="130.85" width="1" height="10.75" fill="#999999"/>
<rect x="310" y="130.85" width="1" height="10.75" fill="#888888"/>
<rect x="311" y="130.85" width="1" height="10.75" fill="#dddddd"/>
<rect x="312" y="130.85" width="2" height="10.75" fill="#777777"/>
<rect x="314" y="130.85" width="1" height="10.75" fill="#888888"/>
<rect x="315" y="130.85" width="1" height="10.75" fill="#555555"/>
<rect x="316" y="130.85" width="1" height="10.75" fill="#666666"/>
<rect x="317" y="130.85" width="1" height="10.75" fill="#888888"/>
<rect x="318" y="130.85" width="1" height="10.75" fill="#999999"/>
<rect x="319" y="130.85" width="2" height="10.75" fill="#aaaaaa"/>
<rect x="321" y="130.85" width="1" height="10.75" fill="#666666"/>
<rect x="322" y="130.85" width="1" height="10.75" fill="#555555"/>
<rect x="323" y="130.85" width="1" height="10.75" fill="#444444"/>
<rect x="324" y="130.85" width="1" height="10.75" fill="#999999"/>
<rect x="325" y="130.85" width="2" height="10.75" fill="#bbbbbb"/>
<rect x="327" y="130.85" width="2" height="10.75" fill="#cccccc"/>
<rect x="329" y="130.85" width="1" height="10.75" fill="#dddddd"/>
<rect x="269" y="141.6" width="61" height="2.3" fill="url(#g)"/>
<path d="M268.7 127.6C268.93 125.4 269.52 118.48 270.1 114.4C270.68 110.32 271.35 105.48 272.2 103.1C273.05 100.72 274.35 100.88 275.2 100.1C276.05 99.32 274.23 97.38 277.3 98.4C280.37 99.42 289.18 103.53 293.6 106.2C298.02 108.87 300.4 111.68 303.8 114.4C307.2 117.12 311.1 120.3 314 122.5C316.9 124.7 319.5 126.85 321.2 127.6C322.9 128.35 322.85 126.93 324.2 127C325.55 127.07 328.45 127.83 329.3 128" fill="none" stroke="#22e644" stroke-width="1.1" stroke-linejoin="round"/>
<rect x="264.3" y="97.5" width="68" height="46.9" fill="none" stroke="#555" stroke-width="1"/>
<text x="330.7" y="105.9" text-anchor="end" class="n" textLength="36" lengthAdjust="spacingAndGlyphs">NES = 1.47</text>
<text x="330.7" y="114.1" text-anchor="end" class="n" textLength="36" lengthAdjust="spacingAndGlyphs">FDR = 0.10</text>
<line x1="40.3" y1="193.2" x2="103.8" y2="193.2" stroke="#e6e6e6" stroke-width="0.8"/>
<line x1="38.9" y1="192.6" x2="40.9" y2="192.6" stroke="#dcdcdc" stroke-width="0.8"/>
<line x1="38.9" y1="188.4" x2="40.9" y2="188.4" stroke="#dcdcdc" stroke-width="0.8"/>
<line x1="38.9" y1="184.2" x2="40.9" y2="184.2" stroke="#dcdcdc" stroke-width="0.8"/>
<line x1="38.9" y1="180" x2="40.9" y2="180" stroke="#dcdcdc" stroke-width="0.8"/>
<line x1="38.9" y1="175.8" x2="40.9" y2="175.8" stroke="#dcdcdc" stroke-width="0.8"/>
<line x1="38.9" y1="171.6" x2="40.9" y2="171.6" stroke="#dcdcdc" stroke-width="0.8"/>
<line x1="38.9" y1="167.4" x2="40.9" y2="167.4" stroke="#dcdcdc" stroke-width="0.8"/>
<rect x="42" y="197.05" width="1" height="10.75" fill="#999999"/>
<rect x="43" y="197.05" width="1" height="10.75" fill="#888888"/>
<rect x="44" y="197.05" width="2" height="10.75" fill="#cccccc"/>
<rect x="46" y="197.05" width="1" height="10.75" fill="#777777"/>
<rect x="47" y="197.05" width="1" height="10.75" fill="#666666"/>
<rect x="48" y="197.05" width="2" height="10.75" fill="#888888"/>
<rect x="50" y="197.05" width="1" height="10.75" fill="#dddddd"/>
<rect x="51" y="197.05" width="2" height="10.75" fill="#bbbbbb"/>
<rect x="53" y="197.05" width="1" height="10.75" fill="#dddddd"/>
<rect x="54" y="197.05" width="1" height="10.75" fill="#999999"/>
<rect x="58" y="197.05" width="1" height="10.75" fill="#cccccc"/>
<rect x="62" y="197.05" width="2" height="10.75" fill="#bbbbbb"/>
<rect x="67" y="197.05" width="1" height="10.75" fill="#cccccc"/>
<rect x="69" y="197.05" width="2" height="10.75" fill="#cccccc"/>
<rect x="74" y="197.05" width="2" height="10.75" fill="#cccccc"/>
<rect x="81" y="197.05" width="1" height="10.75" fill="#dddddd"/>
<rect x="85" y="197.05" width="2" height="10.75" fill="#bbbbbb"/>
<rect x="87" y="197.05" width="2" height="10.75" fill="#dddddd"/>
<rect x="89" y="197.05" width="1" height="10.75" fill="#888888"/>
<rect x="90" y="197.05" width="2" height="10.75" fill="#cccccc"/>
<rect x="92" y="197.05" width="1" height="10.75" fill="#555555"/>
<rect x="93" y="197.05" width="1" height="10.75" fill="#cccccc"/>
<rect x="96" y="197.05" width="1" height="10.75" fill="#bbbbbb"/>
<rect x="99" y="197.05" width="1" height="10.75" fill="#bbbbbb"/>
<rect x="101" y="197.05" width="2" height="10.75" fill="#cccccc"/>
<rect x="42" y="207.8" width="61" height="2.3" fill="url(#g)"/>
<path d="M42.1 192.6C42.27 191.23 42.58 186.78 43.1 184.4C43.62 182.02 44.52 180.67 45.2 178.3C45.88 175.93 46.52 172.3 47.2 170.2C47.88 168.1 48.1 166.05 49.3 165.7C50.5 165.35 51.52 166.5 54.4 168.1C57.28 169.7 62.87 172.92 66.6 175.3C70.33 177.68 73.73 180.02 76.8 182.4C79.87 184.78 82.95 187.9 85 189.6C87.05 191.3 87.75 192.27 89.1 192.6C90.45 192.93 91.75 191.33 93.1 191.6C94.45 191.87 96 194.03 97.2 194.2C98.4 194.37 99.45 192.77 100.3 192.6C101.15 192.43 101.97 193.1 102.3 193.2" fill="none" stroke="#22e644" stroke-width="1.1" stroke-linejoin="round"/>
<rect x="37.3" y="163.3" width="68" height="47.3" fill="none" stroke="#555" stroke-width="1"/>
<text x="104.2" y="171.7" text-anchor="end" class="n" textLength="36" lengthAdjust="spacingAndGlyphs">NES = 1.68</text>
<text x="104.2" y="179.9" text-anchor="end" class="n" textLength="36" lengthAdjust="spacingAndGlyphs">FDR = 0.20</text>
<line x1="116" y1="193.2" x2="179.5" y2="193.2" stroke="#e6e6e6" stroke-width="0.8"/>
<line x1="114.6" y1="192.6" x2="116.6" y2="192.6" stroke="#dcdcdc" stroke-width="0.8"/>
<line x1="114.6" y1="188.4" x2="116.6" y2="188.4" stroke="#dcdcdc" stroke-width="0.8"/>
<line x1="114.6" y1="184.2" x2="116.6" y2="184.2" stroke="#dcdcdc" stroke-width="0.8"/>
<line x1="114.6" y1="180" x2="116.6" y2="180" stroke="#dcdcdc" stroke-width="0.8"/>
<line x1="114.6" y1="175.8" x2="116.6" y2="175.8" stroke="#dcdcdc" stroke-width="0.8"/>
<line x1="114.6" y1="171.6" x2="116.6" y2="171.6" stroke="#dcdcdc" stroke-width="0.8"/>
<line x1="114.6" y1="167.4" x2="116.6" y2="167.4" stroke="#dcdcdc" stroke-width="0.8"/>
<rect x="118" y="197.05" width="3" height="10.75" fill="#181818"/>
<rect x="121" y="197.05" width="1" height="10.75" fill="#222222"/>
<rect x="122" y="197.05" width="1" height="10.75" fill="#444444"/>
<rect x="123" y="197.05" width="1" height="10.75" fill="#666666"/>
<rect x="124" y="197.05" width="1" height="10.75" fill="#888888"/>
<rect x="125" y="197.05" width="2" height="10.75" fill="#777777"/>
<rect x="127" y="197.05" width="1" height="10.75" fill="#999999"/>
<rect x="128" y="197.05" width="2" height="10.75" fill="#888888"/>
<rect x="130" y="197.05" width="2" height="10.75" fill="#999999"/>
<rect x="132" y="197.05" width="2" height="10.75" fill="#888888"/>
<rect x="134" y="197.05" width="1" height="10.75" fill="#aaaaaa"/>
<rect x="135" y="197.05" width="1" height="10.75" fill="#bbbbbb"/>
<rect x="136" y="197.05" width="1" height="10.75" fill="#cccccc"/>
<rect x="137" y="197.05" width="1" height="10.75" fill="#eeeeee"/>
<rect x="139" y="197.05" width="1" height="10.75" fill="#cccccc"/>
<rect x="140" y="197.05" width="2" height="10.75" fill="#eeeeee"/>
<rect x="143" y="197.05" width="2" height="10.75" fill="#999999"/>
<rect x="145" y="197.05" width="1" height="10.75" fill="#cccccc"/>
<rect x="148" y="197.05" width="1" height="10.75" fill="#cccccc"/>
<rect x="152" y="197.05" width="1" height="10.75" fill="#bbbbbb"/>
<rect x="153" y="197.05" width="1" height="10.75" fill="#cccccc"/>
<rect x="154" y="197.05" width="5" height="10.75" fill="#dddddd"/>
<rect x="161" y="197.05" width="2" height="10.75" fill="#bbbbbb"/>
<rect x="163" y="197.05" width="2" height="10.75" fill="#cccccc"/>
<rect x="165" y="197.05" width="1" height="10.75" fill="#eeeeee"/>
<rect x="166" y="197.05" width="2" height="10.75" fill="#888888"/>
<rect x="168" y="197.05" width="1" height="10.75" fill="#aaaaaa"/>
<rect x="169" y="197.05" width="2" height="10.75" fill="#999999"/>
<rect x="171" y="197.05" width="1" height="10.75" fill="#cccccc"/>
<rect x="172" y="197.05" width="1" height="10.75" fill="#888888"/>
<rect x="173" y="197.05" width="1" height="10.75" fill="#eeeeee"/>
<rect x="174" y="197.05" width="2" height="10.75" fill="#888888"/>
<rect x="176" y="197.05" width="1" height="10.75" fill="#777777"/>
<rect x="177" y="197.05" width="2" height="10.75" fill="#555555"/>
<rect x="118" y="207.8" width="61" height="2.3" fill="url(#g)"/>
<path d="M117.7 192.6C117.93 189.53 118.52 178.45 119.1 174.2C119.68 169.95 120.52 168.73 121.2 167.1C121.88 165.47 121.33 164.4 123.2 164.4C125.07 164.4 129.17 165.63 132.4 167.1C135.63 168.57 139.2 170.98 142.6 173.2C146 175.42 149.4 178.02 152.8 180.4C156.2 182.78 159.6 185.3 163 187.5C166.4 189.7 170.98 192.4 173.2 193.6C175.42 194.8 175.45 194.87 176.3 194.7C177.15 194.53 177.97 192.95 178.3 192.6" fill="none" stroke="#22e644" stroke-width="1.1" stroke-linejoin="round"/>
<rect x="113" y="163.3" width="68" height="47.3" fill="none" stroke="#555" stroke-width="1"/>
<text x="180.1" y="171.7" text-anchor="end" class="n" textLength="36" lengthAdjust="spacingAndGlyphs">NES = 1.59</text>
<text x="180.1" y="179.9" text-anchor="end" class="n" textLength="36" lengthAdjust="spacingAndGlyphs">FDR = 0.17</text>
<line x1="192" y1="191.2" x2="255.5" y2="191.2" stroke="#e6e6e6" stroke-width="0.8"/>
<line x1="190.6" y1="190.6" x2="192.6" y2="190.6" stroke="#dcdcdc" stroke-width="0.8"/>
<line x1="190.6" y1="186.4" x2="192.6" y2="186.4" stroke="#dcdcdc" stroke-width="0.8"/>
<line x1="190.6" y1="182.2" x2="192.6" y2="182.2" stroke="#dcdcdc" stroke-width="0.8"/>
<line x1="190.6" y1="178" x2="192.6" y2="178" stroke="#dcdcdc" stroke-width="0.8"/>
<line x1="190.6" y1="173.8" x2="192.6" y2="173.8" stroke="#dcdcdc" stroke-width="0.8"/>
<line x1="190.6" y1="169.6" x2="192.6" y2="169.6" stroke="#dcdcdc" stroke-width="0.8"/>
<rect x="194" y="197.05" width="1" height="10.75" fill="#888888"/>
<rect x="195" y="197.05" width="1" height="10.75" fill="#555555"/>
<rect x="196" y="197.05" width="1" height="10.75" fill="#444444"/>
<rect x="198" y="197.05" width="1" height="10.75" fill="#777777"/>
<rect x="199" y="197.05" width="1" height="10.75" fill="#eeeeee"/>
<rect x="200" y="197.05" width="2" height="10.75" fill="#888888"/>
<rect x="202" y="197.05" width="1" height="10.75" fill="#cccccc"/>
<rect x="209" y="197.05" width="2" height="10.75" fill="#cccccc"/>
<rect x="212" y="197.05" width="2" height="10.75" fill="#cccccc"/>
<rect x="215" y="197.05" width="2" height="10.75" fill="#bbbbbb"/>
<rect x="218" y="197.05" width="2" height="10.75" fill="#dddddd"/>
<rect x="225" y="197.05" width="1" height="10.75" fill="#cccccc"/>
<rect x="239" y="197.05" width="2" height="10.75" fill="#cccccc"/>
<rect x="243" y="197.05" width="1" height="10.75" fill="#dddddd"/>
<rect x="244" y="197.05" width="2" height="10.75" fill="#cccccc"/>
<rect x="246" y="197.05" width="1" height="10.75" fill="#999999"/>
<rect x="247" y="197.05" width="1" height="10.75" fill="#dddddd"/>
<rect x="248" y="197.05" width="2" height="10.75" fill="#999999"/>
<rect x="250" y="197.05" width="1" height="10.75" fill="#cccccc"/>
<rect x="251" y="197.05" width="2" height="10.75" fill="#eeeeee"/>
<rect x="253" y="197.05" width="2" height="10.75" fill="#aaaaaa"/>
<rect x="194" y="207.8" width="61" height="2.3" fill="url(#g)"/>
<path d="M193.7 190.6C193.77 188.9 193.87 183.8 194.1 180.4C194.33 177 194.75 172.58 195.1 170.2C195.45 167.82 195.68 166.72 196.2 166.1C196.72 165.48 197.7 166.67 198.2 166.5C198.7 166.33 198.52 165.23 199.2 165.1C199.88 164.97 200.08 164.85 202.3 165.7C204.52 166.55 208.77 168.1 212.5 170.2C216.23 172.3 220.62 175.58 224.7 178.3C228.78 181.02 233.25 183.95 237 186.5C240.75 189.05 245 192.23 247.2 193.6C249.4 194.97 249.02 195.03 250.2 194.7C251.38 194.37 253.62 192.12 254.3 191.6" fill="none" stroke="#22e644" stroke-width="1.1" stroke-linejoin="round"/>
<rect x="189" y="163.3" width="68" height="47.3" fill="none" stroke="#555" stroke-width="1"/>
<text x="254.7" y="171.7" text-anchor="end" class="n" textLength="36" lengthAdjust="spacingAndGlyphs">NES = 1.55</text>
<text x="254.7" y="179.9" text-anchor="end" class="n" textLength="36" lengthAdjust="spacingAndGlyphs">FDR = 0.18</text>
<line x1="40.3" y1="246.2" x2="103.8" y2="246.2" stroke="#e6e6e6" stroke-width="0.8"/>
<line x1="38.9" y1="245.6" x2="40.9" y2="245.6" stroke="#dcdcdc" stroke-width="0.8"/>
<line x1="38.9" y1="241.4" x2="40.9" y2="241.4" stroke="#dcdcdc" stroke-width="0.8"/>
<line x1="38.9" y1="237.2" x2="40.9" y2="237.2" stroke="#dcdcdc" stroke-width="0.8"/>
<line x1="38.9" y1="233" x2="40.9" y2="233" stroke="#dcdcdc" stroke-width="0.8"/>
<line x1="38.9" y1="228.8" x2="40.9" y2="228.8" stroke="#dcdcdc" stroke-width="0.8"/>
<line x1="38.9" y1="224.6" x2="40.9" y2="224.6" stroke="#dcdcdc" stroke-width="0.8"/>
<line x1="38.9" y1="220.4" x2="40.9" y2="220.4" stroke="#dcdcdc" stroke-width="0.8"/>
<rect x="42" y="250.45" width="1" height="10.75" fill="#888888"/>
<rect x="43" y="250.45" width="1" height="10.75" fill="#999999"/>
<rect x="44" y="250.45" width="2" height="10.75" fill="#cccccc"/>
<rect x="46" y="250.45" width="1" height="10.75" fill="#777777"/>
<rect x="47" y="250.45" width="2" height="10.75" fill="#666666"/>
<rect x="49" y="250.45" width="1" height="10.75" fill="#888888"/>
<rect x="50" y="250.45" width="1" height="10.75" fill="#dddddd"/>
<rect x="51" y="250.45" width="2" height="10.75" fill="#bbbbbb"/>
<rect x="53" y="250.45" width="1" height="10.75" fill="#dddddd"/>
<rect x="54" y="250.45" width="1" height="10.75" fill="#999999"/>
<rect x="58" y="250.45" width="2" height="10.75" fill="#cccccc"/>
<rect x="63" y="250.45" width="1" height="10.75" fill="#aaaaaa"/>
<rect x="69" y="250.45" width="2" height="10.75" fill="#cccccc"/>
<rect x="74" y="250.45" width="2" height="10.75" fill="#cccccc"/>
<rect x="78" y="250.45" width="2" height="10.75" fill="#dddddd"/>
<rect x="82" y="250.45" width="1" height="10.75" fill="#cccccc"/>
<rect x="85" y="250.45" width="1" height="10.75" fill="#bbbbbb"/>
<rect x="86" y="250.45" width="1" height="10.75" fill="#999999"/>
<rect x="87" y="250.45" width="2" height="10.75" fill="#dddddd"/>
<rect x="89" y="250.45" width="2" height="10.75" fill="#666666"/>
<rect x="91" y="250.45" width="1" height="10.75" fill="#cccccc"/>
<rect x="92" y="250.45" width="2" height="10.75" fill="#555555"/>
<rect x="94" y="250.45" width="1" height="10.75" fill="#cccccc"/>
<rect x="96" y="250.45" width="2" height="10.75" fill="#cccccc"/>
<rect x="99" y="250.45" width="4" height="10.75" fill="#cccccc"/>
<rect x="42" y="261.2" width="61" height="2.3" fill="url(#g)"/>
<path d="M42.1 245.6C42.45 243.9 43.52 238.12 44.2 235.4C44.88 232.68 45.7 231.33 46.2 229.3C46.7 227.27 46.68 224.97 47.2 223.2C47.72 221.43 48.1 219.05 49.3 218.7C50.5 218.35 51.52 219.33 54.4 221.1C57.28 222.87 62.87 226.75 66.6 229.3C70.33 231.85 73.73 234.02 76.8 236.4C79.87 238.78 82.95 242 85 243.6C87.05 245.2 87.75 245.73 89.1 246C90.45 246.27 91.75 244.92 93.1 245.2C94.45 245.48 96 247.7 97.2 247.7C98.4 247.7 99.45 245.48 100.3 245.2C101.15 244.92 101.97 245.87 102.3 246" fill="none" stroke="#22e644" stroke-width="1.1" stroke-linejoin="round"/>
<rect x="37.3" y="216.7" width="68" height="47.3" fill="none" stroke="#555" stroke-width="1"/>
<text x="104.2" y="225.1" text-anchor="end" class="n" textLength="36" lengthAdjust="spacingAndGlyphs">NES = 1.38</text>
<text x="104.2" y="233.3" text-anchor="end" class="n" textLength="36" lengthAdjust="spacingAndGlyphs">FDR = 0.13</text>
<line x1="116" y1="246.2" x2="179.5" y2="246.2" stroke="#e6e6e6" stroke-width="0.8"/>
<line x1="114.6" y1="245.6" x2="116.6" y2="245.6" stroke="#dcdcdc" stroke-width="0.8"/>
<line x1="114.6" y1="241.4" x2="116.6" y2="241.4" stroke="#dcdcdc" stroke-width="0.8"/>
<line x1="114.6" y1="237.2" x2="116.6" y2="237.2" stroke="#dcdcdc" stroke-width="0.8"/>
<line x1="114.6" y1="233" x2="116.6" y2="233" stroke="#dcdcdc" stroke-width="0.8"/>
<line x1="114.6" y1="228.8" x2="116.6" y2="228.8" stroke="#dcdcdc" stroke-width="0.8"/>
<line x1="114.6" y1="224.6" x2="116.6" y2="224.6" stroke="#dcdcdc" stroke-width="0.8"/>
<line x1="114.6" y1="220.4" x2="116.6" y2="220.4" stroke="#dcdcdc" stroke-width="0.8"/>
<rect x="118" y="250.45" width="4" height="10.75" fill="#181818"/>
<rect x="122" y="250.45" width="1" height="10.75" fill="#666666"/>
<rect x="123" y="250.45" width="1" height="10.75" fill="#888888"/>
<rect x="124" y="250.45" width="1" height="10.75" fill="#aaaaaa"/>
<rect x="125" y="250.45" width="2" height="10.75" fill="#777777"/>
<rect x="127" y="250.45" width="2" height="10.75" fill="#aaaaaa"/>
<rect x="129" y="250.45" width="2" height="10.75" fill="#888888"/>
<rect x="131" y="250.45" width="2" height="10.75" fill="#aaaaaa"/>
<rect x="133" y="250.45" width="2" height="10.75" fill="#999999"/>
<rect x="135" y="250.45" width="1" height="10.75" fill="#bbbbbb"/>
<rect x="136" y="250.45" width="2" height="10.75" fill="#cccccc"/>
<rect x="139" y="250.45" width="1" height="10.75" fill="#cccccc"/>
<rect x="143" y="250.45" width="1" height="10.75" fill="#888888"/>
<rect x="144" y="250.45" width="1" height="10.75" fill="#cccccc"/>
<rect x="148" y="250.45" width="1" height="10.75" fill="#cccccc"/>
<rect x="152" y="250.45" width="1" height="10.75" fill="#bbbbbb"/>
<rect x="153" y="250.45" width="2" height="10.75" fill="#dddddd"/>
<rect x="155" y="250.45" width="1" height="10.75" fill="#bbbbbb"/>
<rect x="156" y="250.45" width="2" height="10.75" fill="#dddddd"/>
<rect x="160" y="250.45" width="2" height="10.75" fill="#cccccc"/>
<rect x="162" y="250.45" width="1" height="10.75" fill="#999999"/>
<rect x="163" y="250.45" width="1" height="10.75" fill="#cccccc"/>
<rect x="164" y="250.45" width="2" height="10.75" fill="#888888"/>
<rect x="166" y="250.45" width="1" height="10.75" fill="#eeeeee"/>
<rect x="167" y="250.45" width="1" height="10.75" fill="#666666"/>
<rect x="168" y="250.45" width="1" height="10.75" fill="#aaaaaa"/>
<rect x="169" y="250.45" width="2" height="10.75" fill="#888888"/>
<rect x="171" y="250.45" width="3" height="10.75" fill="#aaaaaa"/>
<rect x="174" y="250.45" width="1" height="10.75" fill="#888888"/>
<rect x="175" y="250.45" width="2" height="10.75" fill="#777777"/>
<rect x="177" y="250.45" width="1" height="10.75" fill="#555555"/>
<rect x="178" y="250.45" width="1" height="10.75" fill="#888888"/>
<rect x="118" y="261.2" width="61" height="2.3" fill="url(#g)"/>
<path d="M117.7 245.6C117.93 242.88 118.52 233.55 119.1 229.3C119.68 225.05 120.52 222.08 121.2 220.1C121.88 218.12 121.33 217.4 123.2 217.4C125.07 217.4 129.17 218.63 132.4 220.1C135.63 221.57 139.2 223.98 142.6 226.2C146 228.42 149.4 231.02 152.8 233.4C156.2 235.78 159.6 238.3 163 240.5C166.4 242.7 170.98 245.4 173.2 246.6C175.42 247.8 175.45 247.87 176.3 247.7C177.15 247.53 177.97 245.95 178.3 245.6" fill="none" stroke="#22e644" stroke-width="1.1" stroke-linejoin="round"/>
<rect x="113" y="216.7" width="68" height="47.3" fill="none" stroke="#555" stroke-width="1"/>
<text x="180.1" y="225.1" text-anchor="end" class="n" textLength="36" lengthAdjust="spacingAndGlyphs">NES = 1.37</text>
<text x="180.1" y="233.3" text-anchor="end" class="n" textLength="36" lengthAdjust="spacingAndGlyphs">FDR = 0.12</text>
<line x1="192" y1="244.2" x2="255.5" y2="244.2" stroke="#e6e6e6" stroke-width="0.8"/>
<line x1="190.6" y1="243.6" x2="192.6" y2="243.6" stroke="#dcdcdc" stroke-width="0.8"/>
<line x1="190.6" y1="239.4" x2="192.6" y2="239.4" stroke="#dcdcdc" stroke-width="0.8"/>
<line x1="190.6" y1="235.2" x2="192.6" y2="235.2" stroke="#dcdcdc" stroke-width="0.8"/>
<line x1="190.6" y1="231" x2="192.6" y2="231" stroke="#dcdcdc" stroke-width="0.8"/>
<line x1="190.6" y1="226.8" x2="192.6" y2="226.8" stroke="#dcdcdc" stroke-width="0.8"/>
<line x1="190.6" y1="222.6" x2="192.6" y2="222.6" stroke="#dcdcdc" stroke-width="0.8"/>
<rect x="194" y="250.45" width="1" height="10.75" fill="#777777"/>
<rect x="195" y="250.45" width="2" height="10.75" fill="#888888"/>
<rect x="198" y="250.45" width="1" height="10.75" fill="#888888"/>
<rect x="199" y="250.45" width="1" height="10.75" fill="#dddddd"/>
<rect x="200" y="250.45" width="2" height="10.75" fill="#999999"/>
<rect x="202" y="250.45" width="1" height="10.75" fill="#cccccc"/>
<rect x="210" y="250.45" width="2" height="10.75" fill="#cccccc"/>
<rect x="212" y="250.45" width="1" height="10.75" fill="#dddddd"/>
<rect x="215" y="250.45" width="2" height="10.75" fill="#bbbbbb"/>
<rect x="236" y="250.45" width="2" height="10.75" fill="#dddddd"/>
<rect x="239" y="250.45" width="2" height="10.75" fill="#dddddd"/>
<rect x="247" y="250.45" width="1" height="10.75" fill="#cccccc"/>
<rect x="249" y="250.45" width="2" height="10.75" fill="#999999"/>
<rect x="251" y="250.45" width="1" height="10.75" fill="#cccccc"/>
<rect x="252" y="250.45" width="1" height="10.75" fill="#aaaaaa"/>
<rect x="194" y="261.2" width="61" height="2.3" fill="url(#g)"/>
<path d="M193.7 243.6C193.77 241.9 193.87 237.15 194.1 233.4C194.33 229.65 194.75 223.48 195.1 221.1C195.45 218.72 195.52 219.6 196.2 219.1C196.88 218.6 198.18 218.17 199.2 218.1C200.22 218.03 200.08 217.85 202.3 218.7C204.52 219.55 208.77 221.1 212.5 223.2C216.23 225.3 220.62 228.58 224.7 231.3C228.78 234.02 233.25 236.95 237 239.5C240.75 242.05 245 245.23 247.2 246.6C249.4 247.97 249.02 248.03 250.2 247.7C251.38 247.37 253.62 245.12 254.3 244.6" fill="none" stroke="#22e644" stroke-width="1.1" stroke-linejoin="round"/>
<rect x="189" y="216.7" width="68" height="47.3" fill="none" stroke="#555" stroke-width="1"/>
<text x="254.7" y="225.1" text-anchor="end" class="n" textLength="36" lengthAdjust="spacingAndGlyphs">NES = 1.25</text>
<text x="254.7" y="233.3" text-anchor="end" class="n" textLength="36" lengthAdjust="spacingAndGlyphs">FDR = 0.23</text>
<line x1="40.3" y1="339.2" x2="103.8" y2="339.2" stroke="#e6e6e6" stroke-width="0.8"/>
<line x1="38.9" y1="338.6" x2="40.9" y2="338.6" stroke="#dcdcdc" stroke-width="0.8"/>
<line x1="38.9" y1="334.4" x2="40.9" y2="334.4" stroke="#dcdcdc" stroke-width="0.8"/>
<line x1="38.9" y1="330.2" x2="40.9" y2="330.2" stroke="#dcdcdc" stroke-width="0.8"/>
<line x1="38.9" y1="326" x2="40.9" y2="326" stroke="#dcdcdc" stroke-width="0.8"/>
<line x1="38.9" y1="321.8" x2="40.9" y2="321.8" stroke="#dcdcdc" stroke-width="0.8"/>
<line x1="38.9" y1="317.6" x2="40.9" y2="317.6" stroke="#dcdcdc" stroke-width="0.8"/>
<line x1="38.9" y1="313.4" x2="40.9" y2="313.4" stroke="#dcdcdc" stroke-width="0.8"/>
<rect x="42" y="342.25" width="2" height="10.75" fill="#181818"/>
<rect x="44" y="342.25" width="1" height="10.75" fill="#222222"/>
<rect x="45" y="342.25" width="2" height="10.75" fill="#333333"/>
<rect x="47" y="342.25" width="1" height="10.75" fill="#222222"/>
<rect x="48" y="342.25" width="1" height="10.75" fill="#777777"/>
<rect x="49" y="342.25" width="2" height="10.75" fill="#333333"/>
<rect x="51" y="342.25" width="1" height="10.75" fill="#aaaaaa"/>
<rect x="52" y="342.25" width="2" height="10.75" fill="#888888"/>
<rect x="54" y="342.25" width="2" height="10.75" fill="#aaaaaa"/>
<rect x="56" y="342.25" width="1" height="10.75" fill="#cccccc"/>
<rect x="57" y="342.25" width="1" height="10.75" fill="#aaaaaa"/>
<rect x="58" y="342.25" width="2" height="10.75" fill="#777777"/>
<rect x="60" y="342.25" width="1" height="10.75" fill="#aaaaaa"/>
<rect x="61" y="342.25" width="2" height="10.75" fill="#cccccc"/>
<rect x="63" y="342.25" width="1" height="10.75" fill="#dddddd"/>
<rect x="64" y="342.25" width="2" height="10.75" fill="#cccccc"/>
<rect x="68" y="342.25" width="1" height="10.75" fill="#cccccc"/>
<rect x="69" y="342.25" width="2" height="10.75" fill="#dddddd"/>
<rect x="71" y="342.25" width="3" height="10.75" fill="#bbbbbb"/>
<rect x="74" y="342.25" width="1" height="10.75" fill="#444444"/>
<rect x="75" y="342.25" width="1" height="10.75" fill="#666666"/>
<rect x="77" y="342.25" width="1" height="10.75" fill="#bbbbbb"/>
<rect x="78" y="342.25" width="2" height="10.75" fill="#aaaaaa"/>
<rect x="80" y="342.25" width="1" height="10.75" fill="#999999"/>
<rect x="81" y="342.25" width="1" height="10.75" fill="#aaaaaa"/>
<rect x="82" y="342.25" width="1" height="10.75" fill="#999999"/>
<rect x="83" y="342.25" width="1" height="10.75" fill="#aaaaaa"/>
<rect x="84" y="342.25" width="1" height="10.75" fill="#999999"/>
<rect x="85" y="342.25" width="1" height="10.75" fill="#777777"/>
<rect x="86" y="342.25" width="1" height="10.75" fill="#cccccc"/>
<rect x="90" y="342.25" width="1" height="10.75" fill="#dddddd"/>
<rect x="91" y="342.25" width="1" height="10.75" fill="#444444"/>
<rect x="92" y="342.25" width="1" height="10.75" fill="#cccccc"/>
<rect x="93" y="342.25" width="5" height="10.75" fill="#dddddd"/>
<rect x="98" y="342.25" width="1" height="10.75" fill="#cccccc"/>
<rect x="101" y="342.25" width="2" height="10.75" fill="#cccccc"/>
<rect x="42" y="353" width="61" height="2.3" fill="url(#gt)"/>
<path d="M42.1 338.6C42.27 335.03 42.58 321.78 43.1 317.2C43.62 312.62 44.52 312.28 45.2 311.1C45.88 309.92 46.35 310.17 47.2 310.1C48.05 310.03 47.07 309 50.3 310.7C53.53 312.4 62.18 317.68 66.6 320.3C71.02 322.92 73.4 324.37 76.8 326.4C80.2 328.43 83.6 330.63 87 332.5C90.4 334.37 94.65 336.4 97.2 337.6C99.75 338.8 101.45 339.35 102.3 339.7" fill="none" stroke="#22e644" stroke-width="1.1" stroke-linejoin="round"/>
<rect x="37.3" y="308.6" width="68" height="47.2" fill="none" stroke="#555" stroke-width="1"/>
<text x="104.2" y="317" text-anchor="end" class="n b" textLength="36" lengthAdjust="spacingAndGlyphs">NES = 2.04</text>
<text x="104.2" y="325.2" text-anchor="end" class="n" textLength="36" lengthAdjust="spacingAndGlyphs">FDR = 0.02</text>
<line x1="116" y1="339.2" x2="179.5" y2="339.2" stroke="#e6e6e6" stroke-width="0.8"/>
<line x1="114.6" y1="338.6" x2="116.6" y2="338.6" stroke="#dcdcdc" stroke-width="0.8"/>
<line x1="114.6" y1="334.4" x2="116.6" y2="334.4" stroke="#dcdcdc" stroke-width="0.8"/>
<line x1="114.6" y1="330.2" x2="116.6" y2="330.2" stroke="#dcdcdc" stroke-width="0.8"/>
<line x1="114.6" y1="326" x2="116.6" y2="326" stroke="#dcdcdc" stroke-width="0.8"/>
<line x1="114.6" y1="321.8" x2="116.6" y2="321.8" stroke="#dcdcdc" stroke-width="0.8"/>
<line x1="114.6" y1="317.6" x2="116.6" y2="317.6" stroke="#dcdcdc" stroke-width="0.8"/>
<line x1="114.6" y1="313.4" x2="116.6" y2="313.4" stroke="#dcdcdc" stroke-width="0.8"/>
<rect x="118" y="342.25" width="2" height="10.75" fill="#222222"/>
<rect x="120" y="342.25" width="1" height="10.75" fill="#777777"/>
<rect x="121" y="342.25" width="2" height="10.75" fill="#333333"/>
<rect x="123" y="342.25" width="1" height="10.75" fill="#888888"/>
<rect x="124" y="342.25" width="2" height="10.75" fill="#555555"/>
<rect x="126" y="342.25" width="1" height="10.75" fill="#999999"/>
<rect x="127" y="342.25" width="2" height="10.75" fill="#aaaaaa"/>
<rect x="129" y="342.25" width="1" height="10.75" fill="#999999"/>
<rect x="130" y="342.25" width="1" height="10.75" fill="#333333"/>
<rect x="131" y="342.25" width="2" height="10.75" fill="#888888"/>
<rect x="133" y="342.25" width="1" height="10.75" fill="#444444"/>
<rect x="134" y="342.25" width="1" height="10.75" fill="#999999"/>
<rect x="135" y="342.25" width="1" height="10.75" fill="#bbbbbb"/>
<rect x="136" y="342.25" width="1" height="10.75" fill="#cccccc"/>
<rect x="137" y="342.25" width="1" height="10.75" fill="#dddddd"/>
<rect x="138" y="342.25" width="2" height="10.75" fill="#888888"/>
<rect x="140" y="342.25" width="1" height="10.75" fill="#cccccc"/>
<rect x="141" y="342.25" width="2" height="10.75" fill="#555555"/>
<rect x="143" y="342.25" width="1" height="10.75" fill="#aaaaaa"/>
<rect x="144" y="342.25" width="2" height="10.75" fill="#777777"/>
<rect x="146" y="342.25" width="1" height="10.75" fill="#aaaaaa"/>
<rect x="147" y="342.25" width="1" height="10.75" fill="#cccccc"/>
<rect x="149" y="342.25" width="1" height="10.75" fill="#eeeeee"/>
<rect x="150" y="342.25" width="1" height="10.75" fill="#aaaaaa"/>
<rect x="151" y="342.25" width="1" height="10.75" fill="#bbbbbb"/>
<rect x="152" y="342.25" width="2" height="10.75" fill="#cccccc"/>
<rect x="154" y="342.25" width="1" height="10.75" fill="#bbbbbb"/>
<rect x="155" y="342.25" width="1" height="10.75" fill="#cccccc"/>
<rect x="156" y="342.25" width="1" height="10.75" fill="#eeeeee"/>
<rect x="157" y="342.25" width="1" height="10.75" fill="#777777"/>
<rect x="158" y="342.25" width="1" height="10.75" fill="#555555"/>
<rect x="159" y="342.25" width="1" height="10.75" fill="#444444"/>
<rect x="160" y="342.25" width="1" height="10.75" fill="#888888"/>
<rect x="163" y="342.25" width="1" height="10.75" fill="#cccccc"/>
<rect x="164" y="342.25" width="2" height="10.75" fill="#bbbbbb"/>
<rect x="167" y="342.25" width="1" height="10.75" fill="#444444"/>
<rect x="168" y="342.25" width="1" height="10.75" fill="#666666"/>
<rect x="169" y="342.25" width="2" height="10.75" fill="#aaaaaa"/>
<rect x="171" y="342.25" width="1" height="10.75" fill="#bbbbbb"/>
<rect x="172" y="342.25" width="2" height="10.75" fill="#cccccc"/>
<rect x="174" y="342.25" width="1" height="10.75" fill="#999999"/>
<rect x="177" y="342.25" width="1" height="10.75" fill="#bbbbbb"/>
<rect x="178" y="342.25" width="1" height="10.75" fill="#dddddd"/>
<rect x="118" y="353" width="61" height="2.3" fill="url(#gt)"/>
<path d="M117.7 338.6C117.77 336.05 117.68 327.38 118.1 323.3C118.52 319.22 119.35 316.2 120.2 314.1C121.05 312 122.18 311.37 123.2 310.7C124.22 310.03 123.07 309.35 126.3 310.1C129.53 310.85 138.18 313.33 142.6 315.2C147.02 317.07 149.4 319.1 152.8 321.3C156.2 323.5 159.6 326.02 163 328.4C166.4 330.78 170.65 333.65 173.2 335.6C175.75 337.55 177.45 339.35 178.3 340.1" fill="none" stroke="#22e644" stroke-width="1.1" stroke-linejoin="round"/>
<rect x="113" y="308.6" width="68" height="47.2" fill="none" stroke="#555" stroke-width="1"/>
<text x="180.1" y="317" text-anchor="end" class="n b" textLength="36" lengthAdjust="spacingAndGlyphs">NES = 2.16</text>
<text x="180.1" y="325.2" text-anchor="end" class="n" textLength="36" lengthAdjust="spacingAndGlyphs">FDR &lt; 0.01</text>
<line x1="192" y1="339.2" x2="255.5" y2="339.2" stroke="#e6e6e6" stroke-width="0.8"/>
<line x1="190.6" y1="338.6" x2="192.6" y2="338.6" stroke="#dcdcdc" stroke-width="0.8"/>
<line x1="190.6" y1="334.4" x2="192.6" y2="334.4" stroke="#dcdcdc" stroke-width="0.8"/>
<line x1="190.6" y1="330.2" x2="192.6" y2="330.2" stroke="#dcdcdc" stroke-width="0.8"/>
<line x1="190.6" y1="326" x2="192.6" y2="326" stroke="#dcdcdc" stroke-width="0.8"/>
<line x1="190.6" y1="321.8" x2="192.6" y2="321.8" stroke="#dcdcdc" stroke-width="0.8"/>
<line x1="190.6" y1="317.6" x2="192.6" y2="317.6" stroke="#dcdcdc" stroke-width="0.8"/>
<line x1="190.6" y1="313.4" x2="192.6" y2="313.4" stroke="#dcdcdc" stroke-width="0.8"/>
<rect x="194" y="342.25" width="1" height="10.75" fill="#333333"/>
<rect x="195" y="342.25" width="1" height="10.75" fill="#888888"/>
<rect x="196" y="342.25" width="1" height="10.75" fill="#cccccc"/>
<rect x="197" y="342.25" width="2" height="10.75" fill="#333333"/>
<rect x="199" y="342.25" width="1" height="10.75" fill="#888888"/>
<rect x="200" y="342.25" width="2" height="10.75" fill="#999999"/>
<rect x="202" y="342.25" width="1" height="10.75" fill="#aaaaaa"/>
<rect x="205" y="342.25" width="1" height="10.75" fill="#888888"/>
<rect x="206" y="342.25" width="2" height="10.75" fill="#666666"/>
<rect x="208" y="342.25" width="1" height="10.75" fill="#aaaaaa"/>
<rect x="209" y="342.25" width="2" height="10.75" fill="#888888"/>
<rect x="211" y="342.25" width="1" height="10.75" fill="#aaaaaa"/>
<rect x="212" y="342.25" width="1" height="10.75" fill="#cccccc"/>
<rect x="213" y="342.25" width="2" height="10.75" fill="#eeeeee"/>
<rect x="215" y="342.25" width="1" height="10.75" fill="#999999"/>
<rect x="216" y="342.25" width="2" height="10.75" fill="#aaaaaa"/>
<rect x="218" y="342.25" width="1" height="10.75" fill="#999999"/>
<rect x="221" y="342.25" width="2" height="10.75" fill="#cccccc"/>
<rect x="225" y="342.25" width="1" height="10.75" fill="#dddddd"/>
<rect x="226" y="342.25" width="1" height="10.75" fill="#cccccc"/>
<rect x="227" y="342.25" width="1" height="10.75" fill="#bbbbbb"/>
<rect x="228" y="342.25" width="1" height="10.75" fill="#999999"/>
<rect x="229" y="342.25" width="2" height="10.75" fill="#dddddd"/>
<rect x="231" y="342.25" width="1" height="10.75" fill="#bbbbbb"/>
<rect x="234" y="342.25" width="2" height="10.75" fill="#cccccc"/>
<rect x="238" y="342.25" width="2" height="10.75" fill="#cccccc"/>
<rect x="248" y="342.25" width="2" height="10.75" fill="#cccccc"/>
<rect x="250" y="342.25" width="1" height="10.75" fill="#aaaaaa"/>
<rect x="194" y="353" width="61" height="2.3" fill="url(#gt)"/>
<path d="M193.7 338.6C193.77 336.05 193.68 327.2 194.1 323.3C194.52 319.4 195.52 316.9 196.2 315.2C196.88 313.5 197.53 313.78 198.2 313.1C198.87 312.42 199.35 311.5 200.2 311.1C201.05 310.7 200.23 310.02 203.3 310.7C206.37 311.38 214.35 313.27 218.6 315.2C222.85 317.13 225.4 319.93 228.8 322.3C232.2 324.67 235.6 327.02 239 329.4C242.4 331.78 246.65 334.72 249.2 336.6C251.75 338.48 253.45 340.02 254.3 340.7" fill="none" stroke="#22e644" stroke-width="1.1" stroke-linejoin="round"/>
<rect x="189" y="308.6" width="68" height="47.2" fill="none" stroke="#555" stroke-width="1"/>
<text x="254.7" y="317" text-anchor="end" class="n b" textLength="36" lengthAdjust="spacingAndGlyphs">NES = 2.00</text>
<text x="254.7" y="325.2" text-anchor="end" class="n" textLength="36" lengthAdjust="spacingAndGlyphs">FDR = 0.02</text>
<line x1="267.3" y1="339.2" x2="330.8" y2="339.2" stroke="#e6e6e6" stroke-width="0.8"/>
<line x1="265.9" y1="338.6" x2="267.9" y2="338.6" stroke="#dcdcdc" stroke-width="0.8"/>
<line x1="265.9" y1="334.4" x2="267.9" y2="334.4" stroke="#dcdcdc" stroke-width="0.8"/>
<line x1="265.9" y1="330.2" x2="267.9" y2="330.2" stroke="#dcdcdc" stroke-width="0.8"/>
<line x1="265.9" y1="326" x2="267.9" y2="326" stroke="#dcdcdc" stroke-width="0.8"/>
<line x1="265.9" y1="321.8" x2="267.9" y2="321.8" stroke="#dcdcdc" stroke-width="0.8"/>
<line x1="265.9" y1="317.6" x2="267.9" y2="317.6" stroke="#dcdcdc" stroke-width="0.8"/>
<line x1="265.9" y1="313.4" x2="267.9" y2="313.4" stroke="#dcdcdc" stroke-width="0.8"/>
<rect x="269" y="342.25" width="2" height="10.75" fill="#181818"/>
<rect x="271" y="342.25" width="1" height="10.75" fill="#333333"/>
<rect x="272" y="342.25" width="1" height="10.75" fill="#222222"/>
<rect x="273" y="342.25" width="2" height="10.75" fill="#444444"/>
<rect x="275" y="342.25" width="2" height="10.75" fill="#555555"/>
<rect x="277" y="342.25" width="1" height="10.75" fill="#666666"/>
<rect x="278" y="342.25" width="2" height="10.75" fill="#777777"/>
<rect x="280" y="342.25" width="1" height="10.75" fill="#888888"/>
<rect x="281" y="342.25" width="2" height="10.75" fill="#aaaaaa"/>
<rect x="283" y="342.25" width="1" height="10.75" fill="#888888"/>
<rect x="284" y="342.25" width="2" height="10.75" fill="#aaaaaa"/>
<rect x="286" y="342.25" width="1" height="10.75" fill="#777777"/>
<rect x="287" y="342.25" width="1" height="10.75" fill="#999999"/>
<rect x="288" y="342.25" width="2" height="10.75" fill="#cccccc"/>
<rect x="290" y="342.25" width="1" height="10.75" fill="#dddddd"/>
<rect x="291" y="342.25" width="2" height="10.75" fill="#999999"/>
<rect x="293" y="342.25" width="1" height="10.75" fill="#aaaaaa"/>
<rect x="294" y="342.25" width="1" height="10.75" fill="#cccccc"/>
<rect x="295" y="342.25" width="2" height="10.75" fill="#777777"/>
<rect x="297" y="342.25" width="1" height="10.75" fill="#cccccc"/>
<rect x="300" y="342.25" width="1" height="10.75" fill="#cccccc"/>
<rect x="301" y="342.25" width="1" height="10.75" fill="#bbbbbb"/>
<rect x="302" y="342.25" width="3" height="10.75" fill="#dddddd"/>
<rect x="305" y="342.25" width="3" height="10.75" fill="#999999"/>
<rect x="308" y="342.25" width="1" height="10.75" fill="#bbbbbb"/>
<rect x="309" y="342.25" width="1" height="10.75" fill="#dddddd"/>
<rect x="310" y="342.25" width="1" height="10.75" fill="#eeeeee"/>
<rect x="312" y="342.25" width="1" height="10.75" fill="#999999"/>
<rect x="313" y="342.25" width="2" height="10.75" fill="#bbbbbb"/>
<rect x="315" y="342.25" width="1" height="10.75" fill="#dddddd"/>
<rect x="318" y="342.25" width="1" height="10.75" fill="#aaaaaa"/>
<rect x="319" y="342.25" width="1" height="10.75" fill="#bbbbbb"/>
<rect x="320" y="342.25" width="2" height="10.75" fill="#999999"/>
<rect x="322" y="342.25" width="1" height="10.75" fill="#dddddd"/>
<rect x="323" y="342.25" width="1" height="10.75" fill="#cccccc"/>
<rect x="324" y="342.25" width="2" height="10.75" fill="#999999"/>
<rect x="269" y="353" width="61" height="2.3" fill="url(#gt)"/>
<path d="M268.7 338.6C268.83 336.05 269.08 327.03 269.5 323.3C269.92 319.57 270.42 318.07 271.2 316.2C271.98 314.33 273.02 313.02 274.2 312.1C275.38 311.18 275.07 310.18 278.3 310.7C281.53 311.22 289.35 313.27 293.6 315.2C297.85 317.13 300.4 319.93 303.8 322.3C307.2 324.67 310.6 327.02 314 329.4C317.4 331.78 321.65 334.72 324.2 336.6C326.75 338.48 328.45 340.02 329.3 340.7" fill="none" stroke="#22e644" stroke-width="1.1" stroke-linejoin="round"/>
<rect x="264.3" y="308.6" width="68" height="47.2" fill="none" stroke="#555" stroke-width="1"/>
<text x="330.7" y="317" text-anchor="end" class="n b" textLength="36" lengthAdjust="spacingAndGlyphs">NES = 2.03</text>
<text x="330.7" y="325.2" text-anchor="end" class="n" textLength="36" lengthAdjust="spacingAndGlyphs">FDR = 0.01</text>
<line x1="40.3" y1="394.3" x2="103.8" y2="394.3" stroke="#e6e6e6" stroke-width="0.8"/>
<line x1="38.9" y1="393.7" x2="40.9" y2="393.7" stroke="#dcdcdc" stroke-width="0.8"/>
<line x1="38.9" y1="389.5" x2="40.9" y2="389.5" stroke="#dcdcdc" stroke-width="0.8"/>
<line x1="38.9" y1="385.3" x2="40.9" y2="385.3" stroke="#dcdcdc" stroke-width="0.8"/>
<line x1="38.9" y1="381.1" x2="40.9" y2="381.1" stroke="#dcdcdc" stroke-width="0.8"/>
<line x1="38.9" y1="376.9" x2="40.9" y2="376.9" stroke="#dcdcdc" stroke-width="0.8"/>
<line x1="38.9" y1="372.7" x2="40.9" y2="372.7" stroke="#dcdcdc" stroke-width="0.8"/>
<line x1="38.9" y1="368.5" x2="40.9" y2="368.5" stroke="#dcdcdc" stroke-width="0.8"/>
<rect x="42" y="396.05" width="1" height="10.75" fill="#181818"/>
<rect x="43" y="396.05" width="1" height="10.75" fill="#222222"/>
<rect x="44" y="396.05" width="1" height="10.75" fill="#333333"/>
<rect x="45" y="396.05" width="1" height="10.75" fill="#777777"/>
<rect x="46" y="396.05" width="1" height="10.75" fill="#555555"/>
<rect x="47" y="396.05" width="1" height="10.75" fill="#666666"/>
<rect x="48" y="396.05" width="1" height="10.75" fill="#777777"/>
<rect x="49" y="396.05" width="2" height="10.75" fill="#999999"/>
<rect x="51" y="396.05" width="1" height="10.75" fill="#333333"/>
<rect x="52" y="396.05" width="1" height="10.75" fill="#bbbbbb"/>
<rect x="53" y="396.05" width="2" height="10.75" fill="#aaaaaa"/>
<rect x="55" y="396.05" width="2" height="10.75" fill="#cccccc"/>
<rect x="57" y="396.05" width="1" height="10.75" fill="#888888"/>
<rect x="58" y="396.05" width="1" height="10.75" fill="#cccccc"/>
<rect x="59" y="396.05" width="2" height="10.75" fill="#888888"/>
<rect x="61" y="396.05" width="1" height="10.75" fill="#aaaaaa"/>
<rect x="62" y="396.05" width="1" height="10.75" fill="#cccccc"/>
<rect x="65" y="396.05" width="2" height="10.75" fill="#dddddd"/>
<rect x="70" y="396.05" width="1" height="10.75" fill="#cccccc"/>
<rect x="73" y="396.05" width="2" height="10.75" fill="#bbbbbb"/>
<rect x="76" y="396.05" width="2" height="10.75" fill="#cccccc"/>
<rect x="80" y="396.05" width="1" height="10.75" fill="#dddddd"/>
<rect x="81" y="396.05" width="2" height="10.75" fill="#cccccc"/>
<rect x="83" y="396.05" width="1" height="10.75" fill="#bbbbbb"/>
<rect x="84" y="396.05" width="2" height="10.75" fill="#999999"/>
<rect x="86" y="396.05" width="1" height="10.75" fill="#cccccc"/>
<rect x="89" y="396.05" width="1" height="10.75" fill="#dddddd"/>
<rect x="90" y="396.05" width="2" height="10.75" fill="#bbbbbb"/>
<rect x="92" y="396.05" width="1" height="10.75" fill="#999999"/>
<rect x="93" y="396.05" width="2" height="10.75" fill="#aaaaaa"/>
<rect x="95" y="396.05" width="1" height="10.75" fill="#999999"/>
<rect x="96" y="396.05" width="1" height="10.75" fill="#cccccc"/>
<rect x="99" y="396.05" width="2" height="10.75" fill="#bbbbbb"/>
<rect x="101" y="396.05" width="1" height="10.75" fill="#dddddd"/>
<rect x="42" y="406.8" width="61" height="2.3" fill="url(#g)"/>
<path d="M41.7 393.7C41.83 390.28 42.15 377.9 42.5 373.2C42.85 368.5 43.35 367.02 43.8 365.5C44.25 363.98 44.8 364.4 45.2 364.1C45.6 363.8 42.63 362.18 46.2 363.7C49.77 365.22 59.8 369.57 66.6 373.2C73.4 376.83 81.05 382.02 87 385.5C92.95 388.98 99.75 392.67 102.3 394.1" fill="none" stroke="#22e644" stroke-width="1.1" stroke-linejoin="round"/>
<rect x="37.3" y="362.8" width="68" height="46.8" fill="none" stroke="#555" stroke-width="1"/>
<text x="104.2" y="371.2" text-anchor="end" class="n" textLength="36" lengthAdjust="spacingAndGlyphs">NES = 1.83</text>
<text x="104.2" y="379.4" text-anchor="end" class="n" textLength="36" lengthAdjust="spacingAndGlyphs">FDR &lt; 0.01</text>
<line x1="116" y1="391.8" x2="179.5" y2="391.8" stroke="#e6e6e6" stroke-width="0.8"/>
<line x1="114.6" y1="391.2" x2="116.6" y2="391.2" stroke="#dcdcdc" stroke-width="0.8"/>
<line x1="114.6" y1="387" x2="116.6" y2="387" stroke="#dcdcdc" stroke-width="0.8"/>
<line x1="114.6" y1="382.8" x2="116.6" y2="382.8" stroke="#dcdcdc" stroke-width="0.8"/>
<line x1="114.6" y1="378.6" x2="116.6" y2="378.6" stroke="#dcdcdc" stroke-width="0.8"/>
<line x1="114.6" y1="374.4" x2="116.6" y2="374.4" stroke="#dcdcdc" stroke-width="0.8"/>
<line x1="114.6" y1="370.2" x2="116.6" y2="370.2" stroke="#dcdcdc" stroke-width="0.8"/>
<line x1="114.6" y1="366" x2="116.6" y2="366" stroke="#dcdcdc" stroke-width="0.8"/>
<rect x="118" y="396.05" width="2" height="10.75" fill="#181818"/>
<rect x="120" y="396.05" width="1" height="10.75" fill="#333333"/>
<rect x="121" y="396.05" width="1" height="10.75" fill="#444444"/>
<rect x="122" y="396.05" width="1" height="10.75" fill="#666666"/>
<rect x="123" y="396.05" width="1" height="10.75" fill="#555555"/>
<rect x="124" y="396.05" width="1" height="10.75" fill="#666666"/>
<rect x="125" y="396.05" width="1" height="10.75" fill="#888888"/>
<rect x="126" y="396.05" width="1" height="10.75" fill="#777777"/>
<rect x="127" y="396.05" width="1" height="10.75" fill="#888888"/>
<rect x="128" y="396.05" width="2" height="10.75" fill="#777777"/>
<rect x="130" y="396.05" width="1" height="10.75" fill="#888888"/>
<rect x="131" y="396.05" width="1" height="10.75" fill="#aaaaaa"/>
<rect x="132" y="396.05" width="1" height="10.75" fill="#999999"/>
<rect x="133" y="396.05" width="2" height="10.75" fill="#bbbbbb"/>
<rect x="135" y="396.05" width="2" height="10.75" fill="#cccccc"/>
<rect x="137" y="396.05" width="1" height="10.75" fill="#bbbbbb"/>
<rect x="138" y="396.05" width="2" height="10.75" fill="#cccccc"/>
<rect x="140" y="396.05" width="1" height="10.75" fill="#dddddd"/>
<rect x="141" y="396.05" width="1" height="10.75" fill="#eeeeee"/>
<rect x="143" y="396.05" width="1" height="10.75" fill="#bbbbbb"/>
<rect x="144" y="396.05" width="2" height="10.75" fill="#cccccc"/>
<rect x="146" y="396.05" width="3" height="10.75" fill="#dddddd"/>
<rect x="149" y="396.05" width="1" height="10.75" fill="#cccccc"/>
<rect x="150" y="396.05" width="1" height="10.75" fill="#eeeeee"/>
<rect x="152" y="396.05" width="1" height="10.75" fill="#888888"/>
<rect x="153" y="396.05" width="2" height="10.75" fill="#cccccc"/>
<rect x="155" y="396.05" width="1" height="10.75" fill="#999999"/>
<rect x="156" y="396.05" width="2" height="10.75" fill="#eeeeee"/>
<rect x="158" y="396.05" width="1" height="10.75" fill="#999999"/>
<rect x="159" y="396.05" width="1" height="10.75" fill="#cccccc"/>
<rect x="160" y="396.05" width="2" height="10.75" fill="#bbbbbb"/>
<rect x="162" y="396.05" width="1" height="10.75" fill="#999999"/>
<rect x="163" y="396.05" width="1" height="10.75" fill="#eeeeee"/>
<rect x="165" y="396.05" width="2" height="10.75" fill="#aaaaaa"/>
<rect x="167" y="396.05" width="2" height="10.75" fill="#666666"/>
<rect x="169" y="396.05" width="1" height="10.75" fill="#888888"/>
<rect x="170" y="396.05" width="2" height="10.75" fill="#666666"/>
<rect x="172" y="396.05" width="1" height="10.75" fill="#999999"/>
<rect x="173" y="396.05" width="2" height="10.75" fill="#666666"/>
<rect x="175" y="396.05" width="1" height="10.75" fill="#888888"/>
<rect x="176" y="396.05" width="1" height="10.75" fill="#555555"/>
<rect x="177" y="396.05" width="2" height="10.75" fill="#444444"/>
<rect x="118" y="406.8" width="61" height="2.3" fill="url(#g)"/>
<path d="M117.7 391.2C117.83 388.2 118.08 377.55 118.5 373.2C118.92 368.85 119.42 366.73 120.2 365.1C120.98 363.47 121.17 363.07 123.2 363.4C125.23 363.73 129.17 365.28 132.4 367.1C135.63 368.92 139.2 371.92 142.6 374.3C146 376.68 149.4 379.2 152.8 381.4C156.2 383.6 159.93 385.63 163 387.5C166.07 389.37 169.15 391.57 171.2 392.6C173.25 393.63 174.12 393.93 175.3 393.7C176.48 393.47 177.8 391.62 178.3 391.2" fill="none" stroke="#22e644" stroke-width="1.1" stroke-linejoin="round"/>
<rect x="113" y="362.8" width="68" height="46.8" fill="none" stroke="#555" stroke-width="1"/>
<text x="180.1" y="371.2" text-anchor="end" class="n" textLength="36" lengthAdjust="spacingAndGlyphs">NES = 1.74</text>
<text x="180.1" y="379.4" text-anchor="end" class="n" textLength="36" lengthAdjust="spacingAndGlyphs">FDR &lt; 0.01</text>
<line x1="192" y1="394.3" x2="255.5" y2="394.3" stroke="#e6e6e6" stroke-width="0.8"/>
<line x1="190.6" y1="393.7" x2="192.6" y2="393.7" stroke="#dcdcdc" stroke-width="0.8"/>
<line x1="190.6" y1="389.5" x2="192.6" y2="389.5" stroke="#dcdcdc" stroke-width="0.8"/>
<line x1="190.6" y1="385.3" x2="192.6" y2="385.3" stroke="#dcdcdc" stroke-width="0.8"/>
<line x1="190.6" y1="381.1" x2="192.6" y2="381.1" stroke="#dcdcdc" stroke-width="0.8"/>
<line x1="190.6" y1="376.9" x2="192.6" y2="376.9" stroke="#dcdcdc" stroke-width="0.8"/>
<line x1="190.6" y1="372.7" x2="192.6" y2="372.7" stroke="#dcdcdc" stroke-width="0.8"/>
<line x1="190.6" y1="368.5" x2="192.6" y2="368.5" stroke="#dcdcdc" stroke-width="0.8"/>
<rect x="194" y="396.05" width="1" height="10.75" fill="#181818"/>
<rect x="195" y="396.05" width="1" height="10.75" fill="#222222"/>
<rect x="196" y="396.05" width="1" height="10.75" fill="#333333"/>
<rect x="197" y="396.05" width="1" height="10.75" fill="#444444"/>
<rect x="198" y="396.05" width="1" height="10.75" fill="#999999"/>
<rect x="199" y="396.05" width="1" height="10.75" fill="#aaaaaa"/>
<rect x="200" y="396.05" width="2" height="10.75" fill="#cccccc"/>
<rect x="202" y="396.05" width="1" height="10.75" fill="#bbbbbb"/>
<rect x="203" y="396.05" width="2" height="10.75" fill="#cccccc"/>
<rect x="205" y="396.05" width="1" height="10.75" fill="#bbbbbb"/>
<rect x="206" y="396.05" width="1" height="10.75" fill="#dddddd"/>
<rect x="207" y="396.05" width="2" height="10.75" fill="#cccccc"/>
<rect x="210" y="396.05" width="1" height="10.75" fill="#cccccc"/>
<rect x="213" y="396.05" width="2" height="10.75" fill="#dddddd"/>
<rect x="215" y="396.05" width="1" height="10.75" fill="#cccccc"/>
<rect x="222" y="396.05" width="1" height="10.75" fill="#dddddd"/>
<rect x="228" y="396.05" width="1" height="10.75" fill="#cccccc"/>
<rect x="232" y="396.05" width="1" height="10.75" fill="#dddddd"/>
<rect x="239" y="396.05" width="1" height="10.75" fill="#cccccc"/>
<rect x="240" y="396.05" width="2" height="10.75" fill="#bbbbbb"/>
<rect x="242" y="396.05" width="1" height="10.75" fill="#999999"/>
<rect x="243" y="396.05" width="2" height="10.75" fill="#aaaaaa"/>
<rect x="245" y="396.05" width="1" height="10.75" fill="#eeeeee"/>
<rect x="246" y="396.05" width="1" height="10.75" fill="#999999"/>
<rect x="247" y="396.05" width="1" height="10.75" fill="#cccccc"/>
<rect x="250" y="396.05" width="2" height="10.75" fill="#aaaaaa"/>
<rect x="252" y="396.05" width="1" height="10.75" fill="#dddddd"/>
<rect x="194" y="406.8" width="61" height="2.3" fill="url(#g)"/>
<path d="M193.7 393.7C193.77 390.63 193.87 379.73 194.1 375.3C194.33 370.87 194.42 368.87 195.1 367.1C195.78 365.33 195.98 364.53 198.2 364.7C200.42 364.87 205 366.33 208.4 368.1C211.8 369.87 215.2 372.92 218.6 375.3C222 377.68 225.4 380.18 228.8 382.4C232.2 384.62 235.6 386.9 239 388.6C242.4 390.3 246.65 391.65 249.2 392.6C251.75 393.55 253.45 394.02 254.3 394.3" fill="none" stroke="#22e644" stroke-width="1.1" stroke-linejoin="round"/>
<rect x="189" y="362.8" width="68" height="46.8" fill="none" stroke="#555" stroke-width="1"/>
<text x="254.7" y="371.2" text-anchor="end" class="n" textLength="36" lengthAdjust="spacingAndGlyphs">NES = 1.85</text>
<text x="254.7" y="379.4" text-anchor="end" class="n" textLength="36" lengthAdjust="spacingAndGlyphs">FDR &lt; 0.01</text>
<line x1="267.3" y1="394.3" x2="330.8" y2="394.3" stroke="#e6e6e6" stroke-width="0.8"/>
<line x1="265.9" y1="393.7" x2="267.9" y2="393.7" stroke="#dcdcdc" stroke-width="0.8"/>
<line x1="265.9" y1="389.5" x2="267.9" y2="389.5" stroke="#dcdcdc" stroke-width="0.8"/>
<line x1="265.9" y1="385.3" x2="267.9" y2="385.3" stroke="#dcdcdc" stroke-width="0.8"/>
<line x1="265.9" y1="381.1" x2="267.9" y2="381.1" stroke="#dcdcdc" stroke-width="0.8"/>
<line x1="265.9" y1="376.9" x2="267.9" y2="376.9" stroke="#dcdcdc" stroke-width="0.8"/>
<line x1="265.9" y1="372.7" x2="267.9" y2="372.7" stroke="#dcdcdc" stroke-width="0.8"/>
<line x1="265.9" y1="368.5" x2="267.9" y2="368.5" stroke="#dcdcdc" stroke-width="0.8"/>
<rect x="269" y="396.05" width="2" height="10.75" fill="#181818"/>
<rect x="271" y="396.05" width="1" height="10.75" fill="#333333"/>
<rect x="272" y="396.05" width="1" height="10.75" fill="#777777"/>
<rect x="273" y="396.05" width="2" height="10.75" fill="#444444"/>
<rect x="275" y="396.05" width="1" height="10.75" fill="#888888"/>
<rect x="276" y="396.05" width="1" height="10.75" fill="#999999"/>
<rect x="277" y="396.05" width="1" height="10.75" fill="#aaaaaa"/>
<rect x="278" y="396.05" width="1" height="10.75" fill="#222222"/>
<rect x="279" y="396.05" width="1" height="10.75" fill="#cccccc"/>
<rect x="283" y="396.05" width="1" height="10.75" fill="#aaaaaa"/>
<rect x="284" y="396.05" width="2" height="10.75" fill="#cccccc"/>
<rect x="286" y="396.05" width="1" height="10.75" fill="#bbbbbb"/>
<rect x="287" y="396.05" width="1" height="10.75" fill="#999999"/>
<rect x="288" y="396.05" width="1" height="10.75" fill="#cccccc"/>
<rect x="291" y="396.05" width="2" height="10.75" fill="#cccccc"/>
<rect x="293" y="396.05" width="1" height="10.75" fill="#dddddd"/>
<rect x="294" y="396.05" width="2" height="10.75" fill="#cccccc"/>
<rect x="298" y="396.05" width="2" height="10.75" fill="#aaaaaa"/>
<rect x="300" y="396.05" width="2" height="10.75" fill="#dddddd"/>
<rect x="302" y="396.05" width="2" height="10.75" fill="#999999"/>
<rect x="304" y="396.05" width="2" height="10.75" fill="#cccccc"/>
<rect x="307" y="396.05" width="2" height="10.75" fill="#888888"/>
<rect x="309" y="396.05" width="1" height="10.75" fill="#aaaaaa"/>
<rect x="310" y="396.05" width="1" height="10.75" fill="#555555"/>
<rect x="311" y="396.05" width="1" height="10.75" fill="#666666"/>
<rect x="312" y="396.05" width="1" height="10.75" fill="#888888"/>
<rect x="313" y="396.05" width="2" height="10.75" fill="#aaaaaa"/>
<rect x="315" y="396.05" width="2" height="10.75" fill="#bbbbbb"/>
<rect x="317" y="396.05" width="1" height="10.75" fill="#999999"/>
<rect x="318" y="396.05" width="1" height="10.75" fill="#cccccc"/>
<rect x="319" y="396.05" width="2" height="10.75" fill="#555555"/>
<rect x="321" y="396.05" width="1" height="10.75" fill="#aaaaaa"/>
<rect x="322" y="396.05" width="1" height="10.75" fill="#cccccc"/>
<rect x="323" y="396.05" width="2" height="10.75" fill="#444444"/>
<rect x="325" y="396.05" width="1" height="10.75" fill="#888888"/>
<rect x="326" y="396.05" width="2" height="10.75" fill="#aaaaaa"/>
<rect x="328" y="396.05" width="2" height="10.75" fill="#cccccc"/>
<rect x="269" y="406.8" width="61" height="2.3" fill="url(#g)"/>
<path d="M268.7 393.7C268.83 390.28 269.08 377.9 269.5 373.2C269.92 368.5 270.58 366.92 271.2 365.5C271.82 364.08 271.17 364.43 273.2 364.7C275.23 364.97 280 365.68 283.4 367.1C286.8 368.52 290.2 370.82 293.6 373.2C297 375.58 300.4 378.83 303.8 381.4C307.2 383.97 310.6 386.73 314 388.6C317.4 390.47 321.65 391.68 324.2 392.6C326.75 393.52 328.45 393.85 329.3 394.1" fill="none" stroke="#22e644" stroke-width="1.1" stroke-linejoin="round"/>
<rect x="264.3" y="362.8" width="68" height="46.8" fill="none" stroke="#555" stroke-width="1"/>
<text x="330.7" y="371.2" text-anchor="end" class="n" textLength="36" lengthAdjust="spacingAndGlyphs">NES = 1.81</text>
<text x="330.7" y="379.4" text-anchor="end" class="n" textLength="36" lengthAdjust="spacingAndGlyphs">FDR &lt; 0.01</text>
<line x1="40.3" y1="462.3" x2="103.8" y2="462.3" stroke="#e6e6e6" stroke-width="0.8"/>
<line x1="38.9" y1="461.7" x2="40.9" y2="461.7" stroke="#dcdcdc" stroke-width="0.8"/>
<line x1="38.9" y1="457.5" x2="40.9" y2="457.5" stroke="#dcdcdc" stroke-width="0.8"/>
<line x1="38.9" y1="453.3" x2="40.9" y2="453.3" stroke="#dcdcdc" stroke-width="0.8"/>
<line x1="38.9" y1="449.1" x2="40.9" y2="449.1" stroke="#dcdcdc" stroke-width="0.8"/>
<line x1="38.9" y1="444.9" x2="40.9" y2="444.9" stroke="#dcdcdc" stroke-width="0.8"/>
<line x1="38.9" y1="440.7" x2="40.9" y2="440.7" stroke="#dcdcdc" stroke-width="0.8"/>
<line x1="38.9" y1="436.5" x2="40.9" y2="436.5" stroke="#dcdcdc" stroke-width="0.8"/>
<rect x="42" y="464.05" width="2" height="10.75" fill="#181818"/>
<rect x="44" y="464.05" width="2" height="10.75" fill="#333333"/>
<rect x="46" y="464.05" width="1" height="10.75" fill="#777777"/>
<rect x="47" y="464.05" width="2" height="10.75" fill="#222222"/>
<rect x="49" y="464.05" width="1" height="10.75" fill="#999999"/>
<rect x="50" y="464.05" width="2" height="10.75" fill="#888888"/>
<rect x="52" y="464.05" width="1" height="10.75" fill="#555555"/>
<rect x="53" y="464.05" width="2" height="10.75" fill="#999999"/>
<rect x="55" y="464.05" width="1" height="10.75" fill="#eeeeee"/>
<rect x="56" y="464.05" width="1" height="10.75" fill="#888888"/>
<rect x="57" y="464.05" width="1" height="10.75" fill="#666666"/>
<rect x="58" y="464.05" width="2" height="10.75" fill="#aaaaaa"/>
<rect x="60" y="464.05" width="1" height="10.75" fill="#333333"/>
<rect x="61" y="464.05" width="1" height="10.75" fill="#aaaaaa"/>
<rect x="62" y="464.05" width="4" height="10.75" fill="#999999"/>
<rect x="66" y="464.05" width="1" height="10.75" fill="#cccccc"/>
<rect x="68" y="464.05" width="3" height="10.75" fill="#999999"/>
<rect x="71" y="464.05" width="2" height="10.75" fill="#cccccc"/>
<rect x="73" y="464.05" width="2" height="10.75" fill="#dddddd"/>
<rect x="75" y="464.05" width="1" height="10.75" fill="#bbbbbb"/>
<rect x="76" y="464.05" width="1" height="10.75" fill="#aaaaaa"/>
<rect x="77" y="464.05" width="1" height="10.75" fill="#555555"/>
<rect x="78" y="464.05" width="1" height="10.75" fill="#999999"/>
<rect x="79" y="464.05" width="2" height="10.75" fill="#aaaaaa"/>
<rect x="81" y="464.05" width="2" height="10.75" fill="#888888"/>
<rect x="83" y="464.05" width="2" height="10.75" fill="#aaaaaa"/>
<rect x="85" y="464.05" width="1" height="10.75" fill="#666666"/>
<rect x="86" y="464.05" width="2" height="10.75" fill="#eeeeee"/>
<rect x="88" y="464.05" width="2" height="10.75" fill="#dddddd"/>
<rect x="90" y="464.05" width="1" height="10.75" fill="#bbbbbb"/>
<rect x="91" y="464.05" width="2" height="10.75" fill="#777777"/>
<rect x="93" y="464.05" width="1" height="10.75" fill="#dddddd"/>
<rect x="95" y="464.05" width="1" height="10.75" fill="#bbbbbb"/>
<rect x="96" y="464.05" width="2" height="10.75" fill="#dddddd"/>
<rect x="98" y="464.05" width="1" height="10.75" fill="#999999"/>
<rect x="101" y="464.05" width="1" height="10.75" fill="#888888"/>
<rect x="102" y="464.05" width="1" height="10.75" fill="#eeeeee"/>
<rect x="42" y="474.8" width="61" height="2.3" fill="url(#gt)"/>
<path d="M42.1 461.7C42.27 459.98 42.75 454.82 43.1 451.4C43.45 447.98 43.68 443.75 44.2 441.2C44.72 438.65 45.35 437.38 46.2 436.1C47.05 434.82 48.12 434.17 49.3 433.5C50.48 432.83 50.42 431.48 53.3 432.1C56.18 432.72 62.68 435.17 66.6 437.2C70.52 439.23 73.4 441.75 76.8 444.3C80.2 446.85 83.6 450.02 87 452.5C90.4 454.98 94.65 457.6 97.2 459.2C99.75 460.8 101.45 461.62 102.3 462.1" fill="none" stroke="#22e644" stroke-width="1.1" stroke-linejoin="round"/>
<rect x="37.3" y="430.6" width="68" height="47" fill="none" stroke="#555" stroke-width="1"/>
<text x="104.2" y="439" text-anchor="end" class="n b" textLength="36" lengthAdjust="spacingAndGlyphs">NES = 2.19</text>
<text x="104.2" y="447.2" text-anchor="end" class="n" textLength="36" lengthAdjust="spacingAndGlyphs">FDR &lt; 0.01</text>
<line x1="116" y1="462.3" x2="179.5" y2="462.3" stroke="#e6e6e6" stroke-width="0.8"/>
<line x1="114.6" y1="461.7" x2="116.6" y2="461.7" stroke="#dcdcdc" stroke-width="0.8"/>
<line x1="114.6" y1="457.5" x2="116.6" y2="457.5" stroke="#dcdcdc" stroke-width="0.8"/>
<line x1="114.6" y1="453.3" x2="116.6" y2="453.3" stroke="#dcdcdc" stroke-width="0.8"/>
<line x1="114.6" y1="449.1" x2="116.6" y2="449.1" stroke="#dcdcdc" stroke-width="0.8"/>
<line x1="114.6" y1="444.9" x2="116.6" y2="444.9" stroke="#dcdcdc" stroke-width="0.8"/>
<line x1="114.6" y1="440.7" x2="116.6" y2="440.7" stroke="#dcdcdc" stroke-width="0.8"/>
<line x1="114.6" y1="436.5" x2="116.6" y2="436.5" stroke="#dcdcdc" stroke-width="0.8"/>
<rect x="118" y="464.05" width="2" height="10.75" fill="#181818"/>
<rect x="120" y="464.05" width="1" height="10.75" fill="#222222"/>
<rect x="121" y="464.05" width="2" height="10.75" fill="#333333"/>
<rect x="123" y="464.05" width="1" height="10.75" fill="#555555"/>
<rect x="124" y="464.05" width="2" height="10.75" fill="#777777"/>
<rect x="126" y="464.05" width="2" height="10.75" fill="#888888"/>
<rect x="128" y="464.05" width="1" height="10.75" fill="#aaaaaa"/>
<rect x="129" y="464.05" width="2" height="10.75" fill="#888888"/>
<rect x="131" y="464.05" width="1" height="10.75" fill="#cccccc"/>
<rect x="132" y="464.05" width="1" height="10.75" fill="#aaaaaa"/>
<rect x="133" y="464.05" width="2" height="10.75" fill="#999999"/>
<rect x="135" y="464.05" width="1" height="10.75" fill="#cccccc"/>
<rect x="136" y="464.05" width="2" height="10.75" fill="#bbbbbb"/>
<rect x="138" y="464.05" width="2" height="10.75" fill="#777777"/>
<rect x="140" y="464.05" width="1" height="10.75" fill="#cccccc"/>
<rect x="141" y="464.05" width="2" height="10.75" fill="#aaaaaa"/>
<rect x="143" y="464.05" width="1" height="10.75" fill="#cccccc"/>
<rect x="144" y="464.05" width="1" height="10.75" fill="#dddddd"/>
<rect x="147" y="464.05" width="1" height="10.75" fill="#bbbbbb"/>
<rect x="150" y="464.05" width="1" height="10.75" fill="#888888"/>
<rect x="151" y="464.05" width="1" height="10.75" fill="#999999"/>
<rect x="154" y="464.05" width="1" height="10.75" fill="#cccccc"/>
<rect x="160" y="464.05" width="1" height="10.75" fill="#888888"/>
<rect x="165" y="464.05" width="1" height="10.75" fill="#cccccc"/>
<rect x="176" y="464.05" width="1" height="10.75" fill="#bbbbbb"/>
<rect x="177" y="464.05" width="2" height="10.75" fill="#cccccc"/>
<rect x="118" y="474.8" width="61" height="2.3" fill="url(#gt)"/>
<path d="M117.7 461.7C117.83 458.97 118.08 449.38 118.5 445.3C118.92 441.22 119.58 439.17 120.2 437.2C120.82 435.23 121.35 434.35 122.2 433.5C123.05 432.65 123.6 432.1 125.3 432.1C127 432.1 129.52 432.32 132.4 433.5C135.28 434.68 139.2 437.07 142.6 439.2C146 441.33 149.4 443.92 152.8 446.3C156.2 448.68 159.6 451.28 163 453.5C166.4 455.72 170.65 458.07 173.2 459.6C175.75 461.13 177.45 462.18 178.3 462.7" fill="none" stroke="#22e644" stroke-width="1.1" stroke-linejoin="round"/>
<rect x="113" y="430.6" width="68" height="47" fill="none" stroke="#555" stroke-width="1"/>
<text x="180.1" y="439" text-anchor="end" class="n" textLength="36" lengthAdjust="spacingAndGlyphs">NES = 1.98</text>
<text x="180.1" y="447.2" text-anchor="end" class="n" textLength="36" lengthAdjust="spacingAndGlyphs">FDR = 0.01</text>
<line x1="40.3" y1="513.2" x2="103.8" y2="513.2" stroke="#e6e6e6" stroke-width="0.8"/>
<line x1="38.9" y1="512.6" x2="40.9" y2="512.6" stroke="#dcdcdc" stroke-width="0.8"/>
<line x1="38.9" y1="508.4" x2="40.9" y2="508.4" stroke="#dcdcdc" stroke-width="0.8"/>
<line x1="38.9" y1="504.2" x2="40.9" y2="504.2" stroke="#dcdcdc" stroke-width="0.8"/>
<line x1="38.9" y1="500" x2="40.9" y2="500" stroke="#dcdcdc" stroke-width="0.8"/>
<line x1="38.9" y1="495.8" x2="40.9" y2="495.8" stroke="#dcdcdc" stroke-width="0.8"/>
<line x1="38.9" y1="491.6" x2="40.9" y2="491.6" stroke="#dcdcdc" stroke-width="0.8"/>
<line x1="38.9" y1="487.4" x2="40.9" y2="487.4" stroke="#dcdcdc" stroke-width="0.8"/>
<rect x="42" y="518.05" width="2" height="10.75" fill="#181818"/>
<rect x="44" y="518.05" width="1" height="10.75" fill="#222222"/>
<rect x="45" y="518.05" width="2" height="10.75" fill="#333333"/>
<rect x="47" y="518.05" width="2" height="10.75" fill="#222222"/>
<rect x="49" y="518.05" width="1" height="10.75" fill="#999999"/>
<rect x="50" y="518.05" width="1" height="10.75" fill="#aaaaaa"/>
<rect x="51" y="518.05" width="2" height="10.75" fill="#999999"/>
<rect x="53" y="518.05" width="1" height="10.75" fill="#666666"/>
<rect x="54" y="518.05" width="1" height="10.75" fill="#888888"/>
<rect x="55" y="518.05" width="2" height="10.75" fill="#eeeeee"/>
<rect x="57" y="518.05" width="1" height="10.75" fill="#bbbbbb"/>
<rect x="58" y="518.05" width="1" height="10.75" fill="#dddddd"/>
<rect x="61" y="518.05" width="1" height="10.75" fill="#cccccc"/>
<rect x="62" y="518.05" width="2" height="10.75" fill="#999999"/>
<rect x="64" y="518.05" width="1" height="10.75" fill="#888888"/>
<rect x="65" y="518.05" width="1" height="10.75" fill="#aaaaaa"/>
<rect x="66" y="518.05" width="2" height="10.75" fill="#cccccc"/>
<rect x="69" y="518.05" width="2" height="10.75" fill="#999999"/>
<rect x="71" y="518.05" width="1" height="10.75" fill="#cccccc"/>
<rect x="73" y="518.05" width="1" height="10.75" fill="#aaaaaa"/>
<rect x="74" y="518.05" width="1" height="10.75" fill="#bbbbbb"/>
<rect x="75" y="518.05" width="1" height="10.75" fill="#cccccc"/>
<rect x="77" y="518.05" width="2" height="10.75" fill="#bbbbbb"/>
<rect x="79" y="518.05" width="1" height="10.75" fill="#cccccc"/>
<rect x="82" y="518.05" width="1" height="10.75" fill="#aaaaaa"/>
<rect x="83" y="518.05" width="1" height="10.75" fill="#bbbbbb"/>
<rect x="84" y="518.05" width="1" height="10.75" fill="#cccccc"/>
<rect x="87" y="518.05" width="2" height="10.75" fill="#dddddd"/>
<rect x="89" y="518.05" width="1" height="10.75" fill="#999999"/>
<rect x="90" y="518.05" width="1" height="10.75" fill="#aaaaaa"/>
<rect x="91" y="518.05" width="1" height="10.75" fill="#bbbbbb"/>
<rect x="92" y="518.05" width="2" height="10.75" fill="#999999"/>
<rect x="94" y="518.05" width="2" height="10.75" fill="#aaaaaa"/>
<rect x="96" y="518.05" width="1" height="10.75" fill="#cccccc"/>
<rect x="97" y="518.05" width="1" height="10.75" fill="#aaaaaa"/>
<rect x="98" y="518.05" width="2" height="10.75" fill="#888888"/>
<rect x="100" y="518.05" width="1" height="10.75" fill="#777777"/>
<rect x="101" y="518.05" width="1" height="10.75" fill="#666666"/>
<rect x="102" y="518.05" width="1" height="10.75" fill="#999999"/>
<rect x="42" y="528.8" width="61" height="2.3" fill="url(#g)"/>
<path d="M41.7 512.6C41.83 509.7 42.08 499.45 42.5 495.2C42.92 490.95 43.58 488.73 44.2 487.1C44.82 485.47 44.17 485.23 46.2 485.4C48.23 485.57 53 486.47 56.4 488.1C59.8 489.73 63.2 492.82 66.6 495.2C70 497.58 73.4 500.18 76.8 502.4C80.2 504.62 83.93 506.47 87 508.5C90.07 510.53 93.15 513.4 95.2 514.6C97.25 515.8 98.12 515.7 99.3 515.7C100.48 515.7 101.8 514.78 102.3 514.6" fill="none" stroke="#22e644" stroke-width="1.1" stroke-linejoin="round"/>
<rect x="37.3" y="484.6" width="68" height="47" fill="none" stroke="#555" stroke-width="1"/>
<text x="104.2" y="493" text-anchor="end" class="n" textLength="36" lengthAdjust="spacingAndGlyphs">NES = 1.91</text>
<text x="104.2" y="501.2" text-anchor="end" class="n" textLength="36" lengthAdjust="spacingAndGlyphs">FDR &lt; 0.01</text>
<line x1="116" y1="516.3" x2="179.5" y2="516.3" stroke="#e6e6e6" stroke-width="0.8"/>
<line x1="114.6" y1="515.7" x2="116.6" y2="515.7" stroke="#dcdcdc" stroke-width="0.8"/>
<line x1="114.6" y1="511.5" x2="116.6" y2="511.5" stroke="#dcdcdc" stroke-width="0.8"/>
<line x1="114.6" y1="507.3" x2="116.6" y2="507.3" stroke="#dcdcdc" stroke-width="0.8"/>
<line x1="114.6" y1="503.1" x2="116.6" y2="503.1" stroke="#dcdcdc" stroke-width="0.8"/>
<line x1="114.6" y1="498.9" x2="116.6" y2="498.9" stroke="#dcdcdc" stroke-width="0.8"/>
<line x1="114.6" y1="494.7" x2="116.6" y2="494.7" stroke="#dcdcdc" stroke-width="0.8"/>
<line x1="114.6" y1="490.5" x2="116.6" y2="490.5" stroke="#dcdcdc" stroke-width="0.8"/>
<rect x="118" y="519.2" width="3" height="10.8" fill="#181818"/>
<rect x="121" y="519.2" width="1" height="10.8" fill="#222222"/>
<rect x="122" y="519.2" width="1" height="10.8" fill="#555555"/>
<rect x="123" y="519.2" width="1" height="10.8" fill="#888888"/>
<rect x="124" y="519.2" width="1" height="10.8" fill="#999999"/>
<rect x="125" y="519.2" width="2" height="10.8" fill="#aaaaaa"/>
<rect x="127" y="519.2" width="1" height="10.8" fill="#bbbbbb"/>
<rect x="128" y="519.2" width="2" height="10.8" fill="#aaaaaa"/>
<rect x="130" y="519.2" width="1" height="10.8" fill="#bbbbbb"/>
<rect x="131" y="519.2" width="1" height="10.8" fill="#aaaaaa"/>
<rect x="132" y="519.2" width="2" height="10.8" fill="#eeeeee"/>
<rect x="134" y="519.2" width="1" height="10.8" fill="#aaaaaa"/>
<rect x="135" y="519.2" width="1" height="10.8" fill="#eeeeee"/>
<rect x="136" y="519.2" width="2" height="10.8" fill="#cccccc"/>
<rect x="138" y="519.2" width="2" height="10.8" fill="#bbbbbb"/>
<rect x="140" y="519.2" width="1" height="10.8" fill="#dddddd"/>
<rect x="149" y="519.2" width="1" height="10.8" fill="#dddddd"/>
<rect x="152" y="519.2" width="1" height="10.8" fill="#cccccc"/>
<rect x="155" y="519.2" width="1" height="10.8" fill="#dddddd"/>
<rect x="158" y="519.2" width="1" height="10.8" fill="#cccccc"/>
<rect x="162" y="519.2" width="1" height="10.8" fill="#cccccc"/>
<rect x="169" y="519.2" width="1" height="10.8" fill="#bbbbbb"/>
<rect x="170" y="519.2" width="1" height="10.8" fill="#aaaaaa"/>
<rect x="173" y="519.2" width="1" height="10.8" fill="#cccccc"/>
<rect x="174" y="519.2" width="1" height="10.8" fill="#aaaaaa"/>
<rect x="177" y="519.2" width="2" height="10.8" fill="#cccccc"/>
<rect x="118" y="530" width="61" height="1.2" fill="url(#g)"/>
<path d="M117.7 515.7C117.83 512.28 118.15 499.9 118.5 495.2C118.85 490.5 119.18 489.02 119.8 487.5C120.42 485.98 120.1 485.83 122.2 486.1C124.3 486.37 129 487.58 132.4 489.1C135.8 490.62 139.2 492.98 142.6 495.2C146 497.42 149.4 500.18 152.8 502.4C156.2 504.62 159.6 506.63 163 508.5C166.4 510.37 170.65 512.23 173.2 513.6C175.75 514.97 177.45 516.18 178.3 516.7" fill="none" stroke="#22e644" stroke-width="1.1" stroke-linejoin="round"/>
<rect x="113" y="484.6" width="68" height="47" fill="none" stroke="#555" stroke-width="1"/>
<text x="180.1" y="493" text-anchor="end" class="n" textLength="36" lengthAdjust="spacingAndGlyphs">NES = 1.75</text>
<text x="180.1" y="501.2" text-anchor="end" class="n" textLength="36" lengthAdjust="spacingAndGlyphs">FDR &lt; 0.01</text>
<text x="39.2" y="273.8" class="hl">High</text>
<text x="104.7" y="273.8" class="hl" text-anchor="end">Low</text>
<text x="37.3" y="539.6" class="hl">High</text>
<text x="103.1" y="539.6" class="hl" text-anchor="end">Low</text>
</svg>
</body></html>
